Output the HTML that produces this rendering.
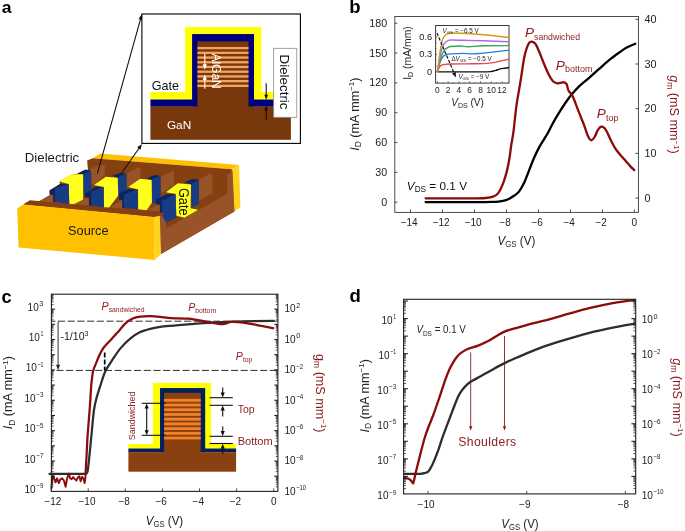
<!DOCTYPE html>
<html><head><meta charset="utf-8"><title>Figure</title>
<style>
html,body{margin:0;padding:0;background:#fff;}
body{width:685px;height:531px;overflow:hidden;}
svg{display:block;font-family:"Liberation Sans",sans-serif;}
</style></head><body>
<svg width="685" height="531" viewBox="0 0 685 531">
<rect width="685" height="531" fill="#fff"/>
<g id="panel-a">
<text x="1.8" y="13" font-size="17" fill="#000" text-anchor="start" font-weight="bold" textLength="9.8" lengthAdjust="spacingAndGlyphs">a</text>
<polygon points="100.1,153.4 239.1,165 231.8,169.3 92.6,158.2" fill="#ffc000" />
<polygon points="239.1,165 240.4,207.3 234.4,211.5 231.8,169.3" fill="#ffd21f" />
<polygon points="87.1,160.5 92.6,158.2 231.8,169.3 234.4,211.5 161.1,254 153.9,217.1 23.2,204.6 29.8,200.6 39.6,201.1 50,195 49.5,190.6 60,184 59.4,181.6 71.9,174.4 77.2,173.7 85.1,169.8 88,169.8" fill="#86400f" />
<polygon points="227.2,175.5 232.5,170 234.4,211.5 161.1,254 159.8,215.8 165.8,213.8 166.2,228.5 227.2,193.8" fill="#985428" />
<polygon points="89.05,169.76 99.99,164.49 104.86,165.55 104.86,175.03 94.32,184.52 91.03,184.52" fill="#985428" />
<polygon points="127.15,173.45 138.75,167.13 140.33,168.18 140.33,177.67 128.87,186.23 127.15,187.55" fill="#985428" />
<polygon points="160.93,176.86 172.13,170.93 174.1,171.59 174.1,184.76 165.54,190.69 160.93,193.33" fill="#985428" />
<polygon points="199.14,179.49 210.34,173.56 212.31,174.49 212.31,193.33 199.14,200.57" fill="#985428" />
<polygon points="39.64,201.12 50.84,194.8 53.48,194.8 53.48,202.44" fill="#985428" />
<polygon points="74.56,204.28 87.73,196.77 89.05,197.43 89.05,205.34" fill="#985428" />
<polygon points="109.1,207.58 120.96,200.72 122.67,200.72 122.67,208.63" fill="#985428" />
<polygon points="146.65,210.34 158.51,204.28 160.09,204.28 160.09,211.66" fill="#985428" />
<polygon points="77.19,173.72 85.1,169.76 91.03,170.42 83.12,174.64" fill="#0a2468" />
<polygon points="83.12,174.64 91.03,170.42 91.69,188.21 83.78,194.14" fill="#183c84" />
<polygon points="59.41,181.62 71.92,174.37 83.12,174.37 83.12,199.41 73.9,204.28 69.29,204.02 68.63,183.99" fill="#ffff1e" />
<polygon points="49.53,190.58 60.07,183.99 68.63,183.99 55.45,188.47 55.45,202.04 53.21,202.04 53.21,195.06 49.53,194.53" fill="#0a2468" />
<polygon points="55.45,188.47 68.63,183.99 69.29,204.02 55.45,202.04" fill="#183c84" />
<polygon points="112.4,175.69 120.96,172.66 126.23,173.45 117.67,177.93" fill="#0a2468" />
<polygon points="117.67,177.93 126.23,173.45 126.89,189.53 118.33,195.45" fill="#183c84" />
<polygon points="93.95,184.91 105.81,176.75 117.67,177.67 118.33,195.45 109.1,207.58 103.83,207.58 103.83,186.89" fill="#ffff1e" />
<polygon points="84.99,193.48 95.27,186.63 103.57,187.15 91.58,191.9 91.58,205.99 88.95,205.6 88.95,197.69 84.99,197.17" fill="#0a2468" />
<polygon points="91.58,191.9 103.57,187.15 103.97,207.58 91.58,205.99" fill="#183c84" />
<polygon points="146.65,178.33 154.56,175.03 160.49,175.69 151.66,180.04" fill="#0a2468" />
<polygon points="151.66,180.04 160.49,175.69 160.88,196.11 155.22,203.36 151.92,202.7" fill="#183c84" />
<polygon points="128.21,186.89 140.07,178.72 151.66,180.04 151.92,202.7 146.65,210.34 138.09,209.29 138.09,189.53" fill="#ffff1e" />
<polygon points="118.72,193.48 129.53,188.87 137.69,189.79 124.52,194.8 123.99,207.97 122.28,207.97 122.28,200.07 118.72,199.41" fill="#0a2468" />
<polygon points="124.52,194.8 137.69,189.79 138.09,209.29 123.99,207.97" fill="#183c84" />
<polygon points="184.37,182.28 192.28,178.99 198.87,179.64 190.96,184.52" fill="#0a2468" />
<polygon points="190.96,184.52 198.87,179.64 198.87,204.02 191.62,207.97" fill="#183c84" />
<polygon points="165.9,192.2 177.8,183.2 191,184.5 190.6,208.3 198.2,209.8 184.4,217.7 176.3,215.8 175.6,194" fill="#ffff1e" />
<polygon points="155.88,199.41 166.42,194.14 175.64,193.74 161.81,201.38 162.07,212.98 159.83,212.19 159.83,204.68 155.88,204.02" fill="#0a2468" />
<polygon points="161.8,201.2 175.6,194.3 176.3,217.7 166.4,222.4 162.2,215.8" fill="#183c84" />
<polygon points="23.2,204.6 29.8,200.6 163.8,213.1 165.8,213.6 159.8,215.8 153.9,217.1" fill="#86400f" />
<polygon points="17.2,208.5 23.2,204.6 153.9,217.1 154.6,259.9 18.6,247.4" fill="#ffc000" />
<polygon points="153.9,217.1 159.8,215.8 161.1,254 154.6,259.9" fill="#ffd21f" />
<text x="24.8" y="161.9" font-size="12.8" fill="#1a1a1a" text-anchor="start" textLength="54.4" lengthAdjust="spacingAndGlyphs">Dielectric</text>
<text x="68" y="234.9" font-size="12.8" fill="#1a1a1a" text-anchor="start" >Source</text>
<text transform="translate(178.5,187.9) rotate(90)" font-size="13.8" fill="#111" textLength="27.6" lengthAdjust="spacingAndGlyphs">Gate</text>
<line x1="97.4" y1="173.4" x2="141.3" y2="16.4" stroke="#111" stroke-width="1.1" />
<polygon points="141.9,14.2 142.35,20.04 138.49,18.96" fill="#111" />
<line x1="121.2" y1="173.7" x2="140.6" y2="146" stroke="#111" stroke-width="1.1" />
<polygon points="142,144 140.48,149.65 137.21,147.36" fill="#111" />
<rect x="141.9" y="14" width="158.5" height="129.4" fill="#fff" stroke="#000" stroke-width="1.1"/>
<polygon points="150.4,92 185.3,92 185.3,27.2 261.2,27.2 261.2,92 274,92 274,99.5 150.4,99.5" fill="#ffff00" />
<rect x="185.3" y="27.2" width="75.9" height="72.3" fill="#ffff00" />
<polygon points="150.4,99.5 192.3,99.5 192.3,34.2 254,34.2 254,99.5 274,99.5 274,106.7 150.4,106.7" fill="#00007e" />
<rect x="192.3" y="34.2" width="61.7" height="72.5" fill="#00007e" />
<rect x="150.4" y="106.6" width="140.5" height="33.2" fill="#78380c" />
<rect x="197.4" y="41.4" width="51.1" height="70" fill="#78380c" />
<rect x="197.4" y="46.95" width="51.1" height="2.3" fill="#f4a460" />
<rect x="197.4" y="51.67" width="51.1" height="2.3" fill="#f4a460" />
<rect x="197.4" y="56.39" width="51.1" height="2.3" fill="#f4a460" />
<rect x="197.4" y="61.11" width="51.1" height="2.3" fill="#f4a460" />
<rect x="197.4" y="65.83" width="51.1" height="2.3" fill="#f4a460" />
<rect x="197.4" y="70.55" width="51.1" height="2.3" fill="#f4a460" />
<rect x="197.4" y="75.27" width="51.1" height="2.3" fill="#f4a460" />
<rect x="197.4" y="79.99" width="51.1" height="2.3" fill="#f4a460" />
<rect x="197.4" y="84.71" width="51.1" height="2.3" fill="#f4a460" />
<line x1="204.8" y1="53.6" x2="204.8" y2="65" stroke="#fff" stroke-width="1.1" />
<polygon points="204.8,69.8 202.7,64.2 206.9,64.2" fill="#fff" />
<line x1="204.8" y1="79.5" x2="204.8" y2="88.8" stroke="#fff" stroke-width="1.1" />
<polygon points="204.8,74.4 206.9,80 202.7,80" fill="#fff" />
<text transform="translate(212.4,53.4) rotate(90)" font-size="13.4" fill="#fff" textLength="35.4" lengthAdjust="spacingAndGlyphs">AlGaN</text>
<text x="151.7" y="90.2" font-size="12.6" fill="#111" text-anchor="start" >Gate</text>
<text x="166.9" y="129" font-size="11.8" fill="#fff" text-anchor="start" >GaN</text>
<line x1="266.2" y1="83.3" x2="266.2" y2="96" stroke="#111" stroke-width="1.1" />
<polygon points="266.2,99.8 264.3,94.8 268.1,94.8" fill="#111" />
<line x1="266.2" y1="109" x2="266.2" y2="120.6" stroke="#111" stroke-width="1.1" />
<polygon points="266.2,105.2 268.1,110.2 264.3,110.2" fill="#111" />
<rect x="273.7" y="48.3" width="23.1" height="69" fill="#fff" stroke="#8a8a8a" stroke-width="0.8"/>
<text transform="translate(280.2,54.5) rotate(90)" font-size="13.3" fill="#111" textLength="55" lengthAdjust="spacingAndGlyphs">Dielectric</text>
</g>
<g id="panel-b">
<text x="349.3" y="12.6" font-size="18.5" fill="#000" text-anchor="start" font-weight="bold">b</text>
<path d="M425.6 202.1C431.33 202.1 450.1 202.1 460 202.1C469.9 202.1 479.47 202.13 485 202.1C490.53 202.07 491.03 201.98 493.2 201.9C495.37 201.82 496.33 201.77 498 201.6C499.67 201.43 501.5 201.28 503.2 200.9C504.9 200.52 506.4 200.15 508.2 199.3C510 198.45 512.2 197.08 514 195.8C515.8 194.52 517.33 193.72 519 191.6C520.67 189.48 522.33 186.6 524 183.1C525.67 179.6 527.33 174.78 529 170.6C530.67 166.42 532.33 161.83 534 158C535.67 154.17 537.33 150.72 539 147.6C540.67 144.48 542.53 141.73 544 139.3C545.47 136.87 546.3 135.72 547.8 133C549.3 130.28 551.12 126.38 553 123C554.88 119.62 557.1 115.95 559.1 112.7C561.1 109.45 562.92 106.52 565 103.5C567.08 100.48 569.25 97.45 571.6 94.6C573.95 91.75 576.18 89.18 579.1 86.4C582.02 83.62 585.77 80.82 589.1 77.9C592.43 74.98 595.77 71.87 599.1 68.9C602.43 65.93 605.75 62.82 609.1 60.1C612.45 57.38 616.27 54.68 619.2 52.6C622.13 50.52 624.03 49.07 626.7 47.6C629.37 46.13 633.78 44.43 635.2 43.8" fill="none" stroke="#000" stroke-width="2.3" stroke-linecap="round" stroke-linejoin="round"/>
<path d="M425.6 198.3C429.67 198.3 441.77 198.3 450 198.3C458.23 198.3 469.05 198.35 475 198.3C480.95 198.25 482.67 198.28 485.7 198C488.73 197.72 491.12 197.42 493.2 196.6C495.28 195.78 496.53 195.35 498.2 193.1C499.87 190.85 501.73 186.85 503.2 183.1C504.67 179.35 505.95 174.78 507 170.6C508.05 166.42 508.8 162.18 509.5 158C510.2 153.82 510.57 149.67 511.2 145.5C511.83 141.33 512.7 137.25 513.3 133C513.9 128.75 514.27 124.63 514.8 120C515.33 115.37 515.58 111.43 516.5 105.2C517.42 98.97 519.05 90.33 520.3 82.6C521.55 74.87 522.97 64.43 524 58.8C525.03 53.17 525.67 51.42 526.5 48.8C527.33 46.18 528.17 44.3 529 43.1C529.83 41.9 530.45 41.48 531.5 41.6C532.55 41.72 534.05 42.18 535.3 43.8C536.55 45.42 537.55 47.97 539 51.3C540.45 54.63 542.33 59.83 544 63.8C545.67 67.77 547.53 72.23 549 75.1C550.47 77.97 551.53 79.65 552.8 81C554.07 82.35 555.35 82.9 556.6 83.2C557.85 83.5 559.05 82.95 560.3 82.8C561.55 82.65 563.05 82.08 564.1 82.3C565.15 82.52 565.88 82.75 566.6 84.1C567.32 85.45 567.73 88.88 568.4 90.4C569.07 91.92 569.9 92.27 570.6 93.2C571.3 94.13 571.85 94.5 572.6 96C573.35 97.5 574.02 99.42 575.1 102.2C576.18 104.98 577.6 108.87 579.1 112.7C580.6 116.53 582.77 121.65 584.1 125.2C585.43 128.75 586.23 131.77 587.1 134C587.97 136.23 588.55 137.57 589.3 138.6C590.05 139.63 590.72 140.47 591.6 140.2C592.48 139.93 593.63 138.57 594.6 137C595.57 135.43 596.57 132.35 597.4 130.8C598.23 129.25 598.9 128.4 599.6 127.7C600.3 127 600.77 126.52 601.6 126.6C602.43 126.68 603.62 127.13 604.6 128.2C605.58 129.27 606.33 130.73 607.5 133C608.67 135.27 610.07 138.88 611.6 141.8C613.13 144.72 614.6 147.58 616.7 150.5C618.8 153.42 621.92 156.65 624.2 159.3C626.48 161.95 628.73 164.6 630.4 166.4C632.07 168.2 633.57 169.48 634.2 170.1" fill="none" stroke="#8b0a0a" stroke-width="2.3" stroke-linecap="round" stroke-linejoin="round"/>
<rect x="394.8" y="16.5" width="243.6" height="195.9" fill="none" stroke="#3a3a3a" stroke-width="0.9"/>
<line x1="394.8" y1="202.2" x2="397.4" y2="202.2" stroke="#3a3a3a" stroke-width="0.9" />
<text x="387.2" y="205.8" font-size="10" fill="#222" text-anchor="end" textLength="5.95" lengthAdjust="spacingAndGlyphs">0</text>
<line x1="394.8" y1="172.37" x2="397.4" y2="172.37" stroke="#3a3a3a" stroke-width="0.9" />
<text x="387.2" y="175.97" font-size="10" fill="#222" text-anchor="end" textLength="11.9" lengthAdjust="spacingAndGlyphs">30</text>
<line x1="394.8" y1="142.54" x2="397.4" y2="142.54" stroke="#3a3a3a" stroke-width="0.9" />
<text x="387.2" y="146.14" font-size="10" fill="#222" text-anchor="end" textLength="11.9" lengthAdjust="spacingAndGlyphs">60</text>
<line x1="394.8" y1="112.71" x2="397.4" y2="112.71" stroke="#3a3a3a" stroke-width="0.9" />
<text x="387.2" y="116.31" font-size="10" fill="#222" text-anchor="end" textLength="11.9" lengthAdjust="spacingAndGlyphs">90</text>
<line x1="394.8" y1="82.88" x2="397.4" y2="82.88" stroke="#3a3a3a" stroke-width="0.9" />
<text x="387.2" y="86.48" font-size="10" fill="#222" text-anchor="end" textLength="17.85" lengthAdjust="spacingAndGlyphs">120</text>
<line x1="394.8" y1="53.06" x2="397.4" y2="53.06" stroke="#3a3a3a" stroke-width="0.9" />
<text x="387.2" y="56.66" font-size="10" fill="#222" text-anchor="end" textLength="17.85" lengthAdjust="spacingAndGlyphs">150</text>
<line x1="394.8" y1="23.23" x2="397.4" y2="23.23" stroke="#3a3a3a" stroke-width="0.9" />
<text x="387.2" y="26.83" font-size="10" fill="#222" text-anchor="end" textLength="17.85" lengthAdjust="spacingAndGlyphs">180</text>
<line x1="410.4" y1="212.4" x2="410.4" y2="209.4" stroke="#3a3a3a" stroke-width="0.9" />
<text x="409.2" y="225.6" font-size="10" fill="#222" text-anchor="middle" >&#8722;14</text>
<line x1="442.4" y1="212.4" x2="442.4" y2="209.4" stroke="#3a3a3a" stroke-width="0.9" />
<text x="441.2" y="225.6" font-size="10" fill="#222" text-anchor="middle" >&#8722;12</text>
<line x1="474.4" y1="212.4" x2="474.4" y2="209.4" stroke="#3a3a3a" stroke-width="0.9" />
<text x="473.2" y="225.6" font-size="10" fill="#222" text-anchor="middle" >&#8722;10</text>
<line x1="506.4" y1="212.4" x2="506.4" y2="209.4" stroke="#3a3a3a" stroke-width="0.9" />
<text x="505.2" y="225.6" font-size="10" fill="#222" text-anchor="middle" >&#8722;8</text>
<line x1="538.4" y1="212.4" x2="538.4" y2="209.4" stroke="#3a3a3a" stroke-width="0.9" />
<text x="537.2" y="225.6" font-size="10" fill="#222" text-anchor="middle" >&#8722;6</text>
<line x1="570.4" y1="212.4" x2="570.4" y2="209.4" stroke="#3a3a3a" stroke-width="0.9" />
<text x="569.2" y="225.6" font-size="10" fill="#222" text-anchor="middle" >&#8722;4</text>
<line x1="602.4" y1="212.4" x2="602.4" y2="209.4" stroke="#3a3a3a" stroke-width="0.9" />
<text x="601.2" y="225.6" font-size="10" fill="#222" text-anchor="middle" >&#8722;2</text>
<line x1="634.4" y1="212.4" x2="634.4" y2="209.4" stroke="#3a3a3a" stroke-width="0.9" />
<text x="634.4" y="225.6" font-size="10" fill="#222" text-anchor="middle" >0</text>
<line x1="638.4" y1="198.1" x2="635.4" y2="198.1" stroke="#3a3a3a" stroke-width="0.9" />
<text x="644.4" y="201.7" font-size="10" fill="#222" text-anchor="start" textLength="6" lengthAdjust="spacingAndGlyphs">0</text>
<line x1="638.4" y1="153.4" x2="635.4" y2="153.4" stroke="#3a3a3a" stroke-width="0.9" />
<text x="644.4" y="157" font-size="10" fill="#222" text-anchor="start" textLength="12.01" lengthAdjust="spacingAndGlyphs">10</text>
<line x1="638.4" y1="108.7" x2="635.4" y2="108.7" stroke="#3a3a3a" stroke-width="0.9" />
<text x="644.4" y="112.3" font-size="10" fill="#222" text-anchor="start" textLength="12.01" lengthAdjust="spacingAndGlyphs">20</text>
<line x1="638.4" y1="64" x2="635.4" y2="64" stroke="#3a3a3a" stroke-width="0.9" />
<text x="644.4" y="67.6" font-size="10" fill="#222" text-anchor="start" textLength="12.01" lengthAdjust="spacingAndGlyphs">30</text>
<line x1="638.4" y1="19.3" x2="635.4" y2="19.3" stroke="#3a3a3a" stroke-width="0.9" />
<text x="644.4" y="22.9" font-size="10" fill="#222" text-anchor="start" textLength="12.01" lengthAdjust="spacingAndGlyphs">40</text>
<text transform="translate(358.9,114.2) rotate(-90)" font-size="12.6" fill="#222" text-anchor="middle"><tspan font-style="italic">I</tspan><tspan font-size="8.5" dy="2.2" font-style="normal">D</tspan><tspan dy="-2.2" font-size="1">&#8203;</tspan> (mA mm<tspan font-size="8" dy="-4.5" font-style="normal">&#8722;1</tspan><tspan dy="4.5" font-size="1">&#8203;</tspan>)</text>
<text transform="translate(669.6,114.5) rotate(90)" font-size="12.6" fill="#8b1a1a" text-anchor="middle"><tspan font-style="italic">g</tspan><tspan font-size="8.5" dy="2.2" font-style="normal">m</tspan><tspan dy="-2.2" font-size="1">&#8203;</tspan> (mS mm<tspan font-size="8" dy="-4.5" font-style="normal">&#8722;1</tspan><tspan dy="4.5" font-size="1">&#8203;</tspan>)</text>
<text x="516.4" y="245.2" font-size="12.2" fill="#222" text-anchor="middle" textLength="37.8" lengthAdjust="spacingAndGlyphs"><tspan font-style="italic">V</tspan><tspan font-size="8.2" dy="2.2" font-style="normal">GS</tspan><tspan dy="-2.2" font-size="1">&#8203;</tspan> (V)</text>
<text x="406.8" y="189.9" font-size="11.8" fill="#111" text-anchor="start" ><tspan font-style="italic">V</tspan><tspan font-size="8.2" dy="2.2" font-style="normal">DS</tspan><tspan dy="-2.2" font-size="1">&#8203;</tspan> = 0.1 V</text>
<text x="525" y="37.2" font-size="13.6" fill="#8b1a1a" text-anchor="start" ><tspan font-style="italic">P</tspan><tspan font-size="8.7" dy="2.6" font-style="normal">sandwiched</tspan><tspan dy="-2.6" font-size="1">&#8203;</tspan></text>
<text x="555.8" y="69.8" font-size="13.6" fill="#8b1a1a" text-anchor="start" ><tspan font-style="italic">P</tspan><tspan font-size="9" dy="2.6" font-style="normal">bottom</tspan><tspan dy="-2.6" font-size="1">&#8203;</tspan></text>
<text x="596.8" y="118.2" font-size="13.6" fill="#8b1a1a" text-anchor="start" ><tspan font-style="italic">P</tspan><tspan font-size="9" dy="2.6" font-style="normal">top</tspan><tspan dy="-2.6" font-size="1">&#8203;</tspan></text>
<rect x="435.6" y="25.5" width="73.4" height="57.6" fill="#fff" stroke="#3a3a3a" stroke-width="1.0"/>
<clipPath id="insclip"><rect x="435.6" y="25.5" width="73.4" height="57.6"/></clipPath>
<g clip-path="url(#insclip)" fill="none" stroke-width="1.4" stroke-linejoin="round">
<path d="M437.39 71.86C439.83 71.86 450.23 71.86 455.67 71.86C461.11 71.86 473.53 71.89 478.2 71.86C482.88 71.82 488.38 71.81 490.72 71.61C493.06 71.41 494.56 70.69 495.73 70.36C496.9 70.02 498.48 69.37 499.48 69.1C500.49 68.84 501.97 68.55 503.24 68.35C504.51 68.15 508.23 67.7 509 67.6" stroke="#111"/>
<path d="M437.39 71.86C437.53 71.52 438.13 69.99 438.39 69.35C438.66 68.72 439.03 67.63 439.39 67.1C439.76 66.57 440.65 65.68 441.15 65.35C441.65 65.01 441.88 64.78 443.15 64.6C444.42 64.41 447.32 64.07 450.66 63.97C454 63.87 463.85 63.9 468.19 63.85C472.53 63.8 479.87 63.76 483.21 63.6C486.55 63.43 491.22 62.86 493.23 62.59C495.23 62.33 496.13 62.06 498.23 61.59C500.34 61.13 507.56 59.42 509 59.09" stroke="#e8474c"/>
<path d="M437.39 71.86C437.59 71.02 438.46 67.07 438.89 65.6C439.33 64.13 440.18 61.94 440.65 60.84C441.11 59.74 441.9 58.07 442.4 57.34C442.9 56.6 443.8 55.73 444.4 55.33C445 54.93 446.07 54.53 446.91 54.33C447.74 54.13 448.49 53.96 450.66 53.83C452.83 53.7 460.18 53.33 463.18 53.33C466.18 53.33 469.86 53.93 473.2 53.83C476.53 53.73 483.44 53.08 488.22 52.58C492.99 52.08 506.23 50.41 509 50.08" stroke="#2a7be0"/>
<path d="M437.39 71.86C437.63 70.69 438.71 64.9 439.14 63.09C439.58 61.29 440.28 59.44 440.65 58.34C441.01 57.24 441.5 55.77 441.9 54.83C442.3 53.9 443.15 52.13 443.65 51.33C444.15 50.53 445.05 49.36 445.65 48.82C446.25 48.29 447.49 47.62 448.16 47.32C448.83 47.02 448.99 46.74 450.66 46.57C452.33 46.4 458.34 46.04 460.68 46.07C463.01 46.1 465.18 46.85 468.19 46.82C471.19 46.79 477.77 45.99 483.21 45.82C488.65 45.65 505.56 45.6 509 45.57" stroke="#2faa55"/>
<path d="M437.39 71.86C437.63 70.46 438.71 63.75 439.14 61.34C439.58 58.94 440.28 55.53 440.65 53.83C441.01 52.13 441.5 49.81 441.9 48.57C442.3 47.34 443.15 45.43 443.65 44.57C444.15 43.7 445.05 42.6 445.65 42.06C446.25 41.53 447.49 40.83 448.16 40.56C448.83 40.29 448.66 40.09 450.66 40.06C452.66 40.03 458.84 40.21 463.18 40.31C467.52 40.41 477.1 40.61 483.21 40.81C489.32 41.01 505.56 41.68 509 41.81" stroke="#b566e6"/>
<path d="M437.39 71.86C437.59 70.29 438.53 62.83 438.89 60.09C439.26 57.35 439.81 53.5 440.15 51.33C440.48 49.16 441 45.59 441.4 43.82C441.8 42.05 442.58 39.23 443.15 38.06C443.72 36.89 444.99 35.65 445.65 35.05C446.32 34.45 447.49 33.82 448.16 33.55C448.83 33.28 448.99 33.08 450.66 33.05C452.33 33.02 456.67 33.1 460.68 33.3C464.68 33.5 475.7 34.15 480.71 34.55C485.71 34.95 494.46 35.9 498.23 36.3C502.01 36.71 507.56 37.39 509 37.56" stroke="#d29b13"/>
</g>
<line x1="435.6" y1="71.9" x2="437.4" y2="71.9" stroke="#3a3a3a" stroke-width="0.7" />
<text x="432.2" y="74.9" font-size="8.4" fill="#222" text-anchor="end" textLength="5.14" lengthAdjust="spacingAndGlyphs">0</text>
<line x1="435.6" y1="54.45" x2="437.4" y2="54.45" stroke="#3a3a3a" stroke-width="0.7" />
<text x="432.2" y="57.45" font-size="8.4" fill="#222" text-anchor="end" textLength="12.84" lengthAdjust="spacingAndGlyphs">0.3</text>
<line x1="435.6" y1="37" x2="437.4" y2="37" stroke="#3a3a3a" stroke-width="0.7" />
<text x="432.2" y="40" font-size="8.4" fill="#222" text-anchor="end" textLength="12.84" lengthAdjust="spacingAndGlyphs">0.6</text>
<line x1="437.4" y1="83.1" x2="437.4" y2="81.3" stroke="#3a3a3a" stroke-width="0.7" />
<text x="437.4" y="92.7" font-size="8.4" fill="#222" text-anchor="middle" >0</text>
<line x1="448.17" y1="83.1" x2="448.17" y2="81.3" stroke="#3a3a3a" stroke-width="0.7" />
<text x="448.17" y="92.7" font-size="8.4" fill="#222" text-anchor="middle" >2</text>
<line x1="458.94" y1="83.1" x2="458.94" y2="81.3" stroke="#3a3a3a" stroke-width="0.7" />
<text x="458.94" y="92.7" font-size="8.4" fill="#222" text-anchor="middle" >4</text>
<line x1="469.71" y1="83.1" x2="469.71" y2="81.3" stroke="#3a3a3a" stroke-width="0.7" />
<text x="469.71" y="92.7" font-size="8.4" fill="#222" text-anchor="middle" >6</text>
<line x1="480.48" y1="83.1" x2="480.48" y2="81.3" stroke="#3a3a3a" stroke-width="0.7" />
<text x="480.48" y="92.7" font-size="8.4" fill="#222" text-anchor="middle" >8</text>
<line x1="491.25" y1="83.1" x2="491.25" y2="81.3" stroke="#3a3a3a" stroke-width="0.7" />
<text x="491.25" y="92.7" font-size="8.4" fill="#222" text-anchor="middle" >10</text>
<line x1="502.02" y1="83.1" x2="502.02" y2="81.3" stroke="#3a3a3a" stroke-width="0.7" />
<text x="502.02" y="92.7" font-size="8.4" fill="#222" text-anchor="middle" >12</text>
<line x1="442.78" y1="83.1" x2="442.78" y2="82.1" stroke="#3a3a3a" stroke-width="0.5" />
<line x1="453.55" y1="83.1" x2="453.55" y2="82.1" stroke="#3a3a3a" stroke-width="0.5" />
<line x1="464.32" y1="83.1" x2="464.32" y2="82.1" stroke="#3a3a3a" stroke-width="0.5" />
<line x1="475.09" y1="83.1" x2="475.09" y2="82.1" stroke="#3a3a3a" stroke-width="0.5" />
<line x1="485.86" y1="83.1" x2="485.86" y2="82.1" stroke="#3a3a3a" stroke-width="0.5" />
<line x1="496.63" y1="83.1" x2="496.63" y2="82.1" stroke="#3a3a3a" stroke-width="0.5" />
<line x1="507.4" y1="83.1" x2="507.4" y2="82.1" stroke="#3a3a3a" stroke-width="0.5" />
<line x1="435.6" y1="66.08" x2="436.6" y2="66.08" stroke="#3a3a3a" stroke-width="0.5" />
<line x1="435.6" y1="60.27" x2="436.6" y2="60.27" stroke="#3a3a3a" stroke-width="0.5" />
<line x1="435.6" y1="48.63" x2="436.6" y2="48.63" stroke="#3a3a3a" stroke-width="0.5" />
<line x1="435.6" y1="42.82" x2="436.6" y2="42.82" stroke="#3a3a3a" stroke-width="0.5" />
<line x1="435.6" y1="31.18" x2="436.6" y2="31.18" stroke="#3a3a3a" stroke-width="0.5" />
<text transform="translate(411.2,53) rotate(-90)" font-size="10.4" fill="#222" text-anchor="middle">I<tspan font-size="7" dy="2" font-style="normal">D</tspan><tspan dy="-2" font-size="1">&#8203;</tspan> (mA/mm)</text>
<text x="467.6" y="106.2" font-size="10.1" fill="#222" text-anchor="middle" ><tspan font-style="italic">V</tspan><tspan font-size="7" dy="2" font-style="normal">DS</tspan><tspan dy="-2" font-size="1">&#8203;</tspan> (V)</text>
<text x="442.6" y="32.6" font-size="6.3" fill="#222" text-anchor="start" ><tspan font-style="italic">V</tspan><tspan font-size="4.4" dy="1.2" font-style="normal">GS</tspan><tspan dy="-1.2" font-size="1">&#8203;</tspan> = &#8722;6.5 V</text>
<text x="451.4" y="60.8" font-size="6.3" fill="#222" text-anchor="start" >&#916;<tspan font-style="italic">V</tspan><tspan font-size="4.4" dy="1.2" font-style="normal">GS</tspan><tspan dy="-1.2" font-size="1">&#8203;</tspan> = &#8722;0.5 V</text>
<text x="458.4" y="79.2" font-size="6.3" fill="#222" text-anchor="start" ><tspan font-style="italic">V</tspan><tspan font-size="4.4" dy="1.2" font-style="normal">GS</tspan><tspan dy="-1.2" font-size="1">&#8203;</tspan> = &#8722;9 V</text>
<line x1="437" y1="33" x2="454.2" y2="73.4" stroke="#111" stroke-width="1.15" stroke-dasharray="3.2 1.7"/>
<polygon points="455.9,77.4 452.1,73.58 455.78,72.02" fill="#111" />
</g>
<g id="panel-c">
<text x="1.5" y="302.5" font-size="18.5" fill="#000" text-anchor="start" font-weight="bold" textLength="10.2" lengthAdjust="spacingAndGlyphs">c</text>
<line x1="51.4" y1="321.2" x2="277.9" y2="321.2" stroke="#222" stroke-width="0.95" stroke-dasharray="7.1 2.6" stroke-dashoffset="3.1"/>
<line x1="51.4" y1="370.4" x2="277.9" y2="370.4" stroke="#222" stroke-width="0.95" stroke-dasharray="7.1 2.6" stroke-dashoffset="4.7"/>
<path d="M49.5 473.8C52.23 473.8 65.4 473.8 70 473.8C74.6 473.8 81.81 473.83 84 473.8C86.19 473.77 85.92 473.92 86.4 473.6C86.88 473.28 87.25 473.21 87.6 471.4C87.95 469.59 88.49 464.77 89 460C89.51 455.23 90.75 442.2 91.4 435.6C92.05 429 93.23 415.45 93.9 410.5C94.57 405.55 95.56 401.74 96.4 398.5C97.24 395.26 99.03 389.81 100.2 386.2C101.37 382.59 103.53 374.97 105.2 371.4C106.87 367.83 110.7 362.44 112.7 359.4C114.7 356.36 117.87 351.37 120.2 348.6C122.53 345.83 127.53 340.8 130.2 338.6C132.87 336.4 137.53 333.41 140.2 332.1C142.87 330.79 147.53 329.49 150.2 328.8C152.87 328.11 157.43 327.3 160.2 326.9C162.97 326.5 166.89 326.17 171 325.8C175.11 325.43 185.65 324.53 191 324.1C196.35 323.67 205.09 322.93 211.1 322.6C217.11 322.27 227.75 321.84 236.1 321.6C244.45 321.36 268.69 320.91 273.7 320.8" fill="none" stroke="#2e2e2e" stroke-width="2.25" stroke-linecap="round" stroke-linejoin="round"/>
<path d="M51.33 488.84L52.08 480.07L53.08 475.82L54.58 479.32L55.58 482.33L57.09 478.32L58.84 483.08L60.34 479.32L62.09 478.32L63.85 480.32L65.6 486.83L67.1 478.32L68.85 473.56L70.11 478.32L71.61 479.32L73.11 477.07L74.61 478.82L76.36 480.57L77.87 477.32L79.37 476.32L80.62 481.32L82.12 476.82L83.38 478.32L84.63 483.08L85.38 478.32L85.63 473.81" fill="none" stroke="#8b0a0a" stroke-width="1.9" stroke-linejoin="round"/>
<path d="M85.6 473.1C85.73 470.69 86.33 460 86.6 455C86.87 450 87.2 441.53 87.6 435.6C88 429.67 89.23 415.38 89.6 410.5C89.97 405.62 90.16 402.57 90.4 399C90.64 395.43 91.04 387.41 91.4 383.7C91.76 379.99 92.43 374.04 93.1 371.2C93.77 368.36 95.45 364.75 96.4 362.4C97.35 360.05 99.2 355.61 100.2 353.6C101.2 351.59 102.57 349.05 103.9 347.3C105.23 345.55 108.36 342.5 110.2 340.5C112.04 338.5 115.7 334.55 117.7 332.3C119.7 330.05 123.2 325.43 125.2 323.6C127.2 321.77 130.7 319.53 132.7 318.6C134.7 317.67 137.87 316.93 140.2 316.6C142.53 316.27 147.53 316.07 150.2 316.1C152.87 316.13 157.43 316.53 160.2 316.8C162.97 317.07 167.23 317.86 171 318.1C174.77 318.34 184.17 318.2 188.5 318.6C192.83 319 200.15 320.5 203.5 321.1C206.85 321.7 211.25 322.69 213.6 323.1C215.95 323.51 219.45 324.16 221.1 324.2C222.75 324.24 224.67 323.71 226 323.4C227.33 323.09 229.09 322.05 231.1 321.9C233.11 321.75 237.77 321.91 241.1 322.3C244.43 322.69 251.82 324.03 256.1 324.8C260.38 325.57 270.92 327.66 273.2 328.1" fill="none" stroke="#8b0a0a" stroke-width="2.25" stroke-linecap="round" stroke-linejoin="round"/>
<rect x="51.4" y="294.2" width="226.5" height="197.2" fill="none" stroke="#222" stroke-width="1.1"/>
<line x1="51.4" y1="486.83" x2="53.5" y2="486.83" stroke="#222" stroke-width="0.8" />
<line x1="277.9" y1="486.83" x2="275.8" y2="486.83" stroke="#222" stroke-width="0.8" />
<line x1="51.4" y1="484.15" x2="53.5" y2="484.15" stroke="#222" stroke-width="0.8" />
<line x1="277.9" y1="484.15" x2="275.8" y2="484.15" stroke="#222" stroke-width="0.8" />
<line x1="51.4" y1="482.25" x2="53.5" y2="482.25" stroke="#222" stroke-width="0.8" />
<line x1="277.9" y1="482.25" x2="275.8" y2="482.25" stroke="#222" stroke-width="0.8" />
<line x1="51.4" y1="480.78" x2="53.5" y2="480.78" stroke="#222" stroke-width="0.8" />
<line x1="277.9" y1="480.78" x2="275.8" y2="480.78" stroke="#222" stroke-width="0.8" />
<line x1="51.4" y1="479.58" x2="53.5" y2="479.58" stroke="#222" stroke-width="0.8" />
<line x1="277.9" y1="479.58" x2="275.8" y2="479.58" stroke="#222" stroke-width="0.8" />
<line x1="51.4" y1="478.56" x2="53.5" y2="478.56" stroke="#222" stroke-width="0.8" />
<line x1="277.9" y1="478.56" x2="275.8" y2="478.56" stroke="#222" stroke-width="0.8" />
<line x1="51.4" y1="477.68" x2="53.5" y2="477.68" stroke="#222" stroke-width="0.8" />
<line x1="277.9" y1="477.68" x2="275.8" y2="477.68" stroke="#222" stroke-width="0.8" />
<line x1="51.4" y1="476.91" x2="53.5" y2="476.91" stroke="#222" stroke-width="0.8" />
<line x1="277.9" y1="476.91" x2="275.8" y2="476.91" stroke="#222" stroke-width="0.8" />
<line x1="51.4" y1="476.21" x2="55" y2="476.21" stroke="#222" stroke-width="1.1" />
<line x1="277.9" y1="476.21" x2="274.3" y2="476.21" stroke="#222" stroke-width="1.1" />
<line x1="51.4" y1="471.64" x2="53.5" y2="471.64" stroke="#222" stroke-width="0.8" />
<line x1="277.9" y1="471.64" x2="275.8" y2="471.64" stroke="#222" stroke-width="0.8" />
<line x1="51.4" y1="468.96" x2="53.5" y2="468.96" stroke="#222" stroke-width="0.8" />
<line x1="277.9" y1="468.96" x2="275.8" y2="468.96" stroke="#222" stroke-width="0.8" />
<line x1="51.4" y1="467.06" x2="53.5" y2="467.06" stroke="#222" stroke-width="0.8" />
<line x1="277.9" y1="467.06" x2="275.8" y2="467.06" stroke="#222" stroke-width="0.8" />
<line x1="51.4" y1="465.59" x2="53.5" y2="465.59" stroke="#222" stroke-width="0.8" />
<line x1="277.9" y1="465.59" x2="275.8" y2="465.59" stroke="#222" stroke-width="0.8" />
<line x1="51.4" y1="464.39" x2="53.5" y2="464.39" stroke="#222" stroke-width="0.8" />
<line x1="277.9" y1="464.39" x2="275.8" y2="464.39" stroke="#222" stroke-width="0.8" />
<line x1="51.4" y1="463.37" x2="53.5" y2="463.37" stroke="#222" stroke-width="0.8" />
<line x1="277.9" y1="463.37" x2="275.8" y2="463.37" stroke="#222" stroke-width="0.8" />
<line x1="51.4" y1="462.49" x2="53.5" y2="462.49" stroke="#222" stroke-width="0.8" />
<line x1="277.9" y1="462.49" x2="275.8" y2="462.49" stroke="#222" stroke-width="0.8" />
<line x1="51.4" y1="461.72" x2="53.5" y2="461.72" stroke="#222" stroke-width="0.8" />
<line x1="277.9" y1="461.72" x2="275.8" y2="461.72" stroke="#222" stroke-width="0.8" />
<line x1="51.4" y1="461.02" x2="55" y2="461.02" stroke="#222" stroke-width="1.1" />
<line x1="277.9" y1="461.02" x2="274.3" y2="461.02" stroke="#222" stroke-width="1.1" />
<line x1="51.4" y1="456.45" x2="53.5" y2="456.45" stroke="#222" stroke-width="0.8" />
<line x1="277.9" y1="456.45" x2="275.8" y2="456.45" stroke="#222" stroke-width="0.8" />
<line x1="51.4" y1="453.77" x2="53.5" y2="453.77" stroke="#222" stroke-width="0.8" />
<line x1="277.9" y1="453.77" x2="275.8" y2="453.77" stroke="#222" stroke-width="0.8" />
<line x1="51.4" y1="451.87" x2="53.5" y2="451.87" stroke="#222" stroke-width="0.8" />
<line x1="277.9" y1="451.87" x2="275.8" y2="451.87" stroke="#222" stroke-width="0.8" />
<line x1="51.4" y1="450.4" x2="53.5" y2="450.4" stroke="#222" stroke-width="0.8" />
<line x1="277.9" y1="450.4" x2="275.8" y2="450.4" stroke="#222" stroke-width="0.8" />
<line x1="51.4" y1="449.2" x2="53.5" y2="449.2" stroke="#222" stroke-width="0.8" />
<line x1="277.9" y1="449.2" x2="275.8" y2="449.2" stroke="#222" stroke-width="0.8" />
<line x1="51.4" y1="448.18" x2="53.5" y2="448.18" stroke="#222" stroke-width="0.8" />
<line x1="277.9" y1="448.18" x2="275.8" y2="448.18" stroke="#222" stroke-width="0.8" />
<line x1="51.4" y1="447.3" x2="53.5" y2="447.3" stroke="#222" stroke-width="0.8" />
<line x1="277.9" y1="447.3" x2="275.8" y2="447.3" stroke="#222" stroke-width="0.8" />
<line x1="51.4" y1="446.53" x2="53.5" y2="446.53" stroke="#222" stroke-width="0.8" />
<line x1="277.9" y1="446.53" x2="275.8" y2="446.53" stroke="#222" stroke-width="0.8" />
<line x1="51.4" y1="445.83" x2="55" y2="445.83" stroke="#222" stroke-width="1.1" />
<line x1="277.9" y1="445.83" x2="274.3" y2="445.83" stroke="#222" stroke-width="1.1" />
<line x1="51.4" y1="441.26" x2="53.5" y2="441.26" stroke="#222" stroke-width="0.8" />
<line x1="277.9" y1="441.26" x2="275.8" y2="441.26" stroke="#222" stroke-width="0.8" />
<line x1="51.4" y1="438.58" x2="53.5" y2="438.58" stroke="#222" stroke-width="0.8" />
<line x1="277.9" y1="438.58" x2="275.8" y2="438.58" stroke="#222" stroke-width="0.8" />
<line x1="51.4" y1="436.68" x2="53.5" y2="436.68" stroke="#222" stroke-width="0.8" />
<line x1="277.9" y1="436.68" x2="275.8" y2="436.68" stroke="#222" stroke-width="0.8" />
<line x1="51.4" y1="435.21" x2="53.5" y2="435.21" stroke="#222" stroke-width="0.8" />
<line x1="277.9" y1="435.21" x2="275.8" y2="435.21" stroke="#222" stroke-width="0.8" />
<line x1="51.4" y1="434.01" x2="53.5" y2="434.01" stroke="#222" stroke-width="0.8" />
<line x1="277.9" y1="434.01" x2="275.8" y2="434.01" stroke="#222" stroke-width="0.8" />
<line x1="51.4" y1="432.99" x2="53.5" y2="432.99" stroke="#222" stroke-width="0.8" />
<line x1="277.9" y1="432.99" x2="275.8" y2="432.99" stroke="#222" stroke-width="0.8" />
<line x1="51.4" y1="432.11" x2="53.5" y2="432.11" stroke="#222" stroke-width="0.8" />
<line x1="277.9" y1="432.11" x2="275.8" y2="432.11" stroke="#222" stroke-width="0.8" />
<line x1="51.4" y1="431.34" x2="53.5" y2="431.34" stroke="#222" stroke-width="0.8" />
<line x1="277.9" y1="431.34" x2="275.8" y2="431.34" stroke="#222" stroke-width="0.8" />
<line x1="51.4" y1="430.64" x2="55" y2="430.64" stroke="#222" stroke-width="1.1" />
<line x1="277.9" y1="430.64" x2="274.3" y2="430.64" stroke="#222" stroke-width="1.1" />
<line x1="51.4" y1="426.07" x2="53.5" y2="426.07" stroke="#222" stroke-width="0.8" />
<line x1="277.9" y1="426.07" x2="275.8" y2="426.07" stroke="#222" stroke-width="0.8" />
<line x1="51.4" y1="423.39" x2="53.5" y2="423.39" stroke="#222" stroke-width="0.8" />
<line x1="277.9" y1="423.39" x2="275.8" y2="423.39" stroke="#222" stroke-width="0.8" />
<line x1="51.4" y1="421.49" x2="53.5" y2="421.49" stroke="#222" stroke-width="0.8" />
<line x1="277.9" y1="421.49" x2="275.8" y2="421.49" stroke="#222" stroke-width="0.8" />
<line x1="51.4" y1="420.02" x2="53.5" y2="420.02" stroke="#222" stroke-width="0.8" />
<line x1="277.9" y1="420.02" x2="275.8" y2="420.02" stroke="#222" stroke-width="0.8" />
<line x1="51.4" y1="418.82" x2="53.5" y2="418.82" stroke="#222" stroke-width="0.8" />
<line x1="277.9" y1="418.82" x2="275.8" y2="418.82" stroke="#222" stroke-width="0.8" />
<line x1="51.4" y1="417.8" x2="53.5" y2="417.8" stroke="#222" stroke-width="0.8" />
<line x1="277.9" y1="417.8" x2="275.8" y2="417.8" stroke="#222" stroke-width="0.8" />
<line x1="51.4" y1="416.92" x2="53.5" y2="416.92" stroke="#222" stroke-width="0.8" />
<line x1="277.9" y1="416.92" x2="275.8" y2="416.92" stroke="#222" stroke-width="0.8" />
<line x1="51.4" y1="416.15" x2="53.5" y2="416.15" stroke="#222" stroke-width="0.8" />
<line x1="277.9" y1="416.15" x2="275.8" y2="416.15" stroke="#222" stroke-width="0.8" />
<line x1="51.4" y1="415.45" x2="55" y2="415.45" stroke="#222" stroke-width="1.1" />
<line x1="277.9" y1="415.45" x2="274.3" y2="415.45" stroke="#222" stroke-width="1.1" />
<line x1="51.4" y1="410.88" x2="53.5" y2="410.88" stroke="#222" stroke-width="0.8" />
<line x1="277.9" y1="410.88" x2="275.8" y2="410.88" stroke="#222" stroke-width="0.8" />
<line x1="51.4" y1="408.2" x2="53.5" y2="408.2" stroke="#222" stroke-width="0.8" />
<line x1="277.9" y1="408.2" x2="275.8" y2="408.2" stroke="#222" stroke-width="0.8" />
<line x1="51.4" y1="406.3" x2="53.5" y2="406.3" stroke="#222" stroke-width="0.8" />
<line x1="277.9" y1="406.3" x2="275.8" y2="406.3" stroke="#222" stroke-width="0.8" />
<line x1="51.4" y1="404.83" x2="53.5" y2="404.83" stroke="#222" stroke-width="0.8" />
<line x1="277.9" y1="404.83" x2="275.8" y2="404.83" stroke="#222" stroke-width="0.8" />
<line x1="51.4" y1="403.63" x2="53.5" y2="403.63" stroke="#222" stroke-width="0.8" />
<line x1="277.9" y1="403.63" x2="275.8" y2="403.63" stroke="#222" stroke-width="0.8" />
<line x1="51.4" y1="402.61" x2="53.5" y2="402.61" stroke="#222" stroke-width="0.8" />
<line x1="277.9" y1="402.61" x2="275.8" y2="402.61" stroke="#222" stroke-width="0.8" />
<line x1="51.4" y1="401.73" x2="53.5" y2="401.73" stroke="#222" stroke-width="0.8" />
<line x1="277.9" y1="401.73" x2="275.8" y2="401.73" stroke="#222" stroke-width="0.8" />
<line x1="51.4" y1="400.96" x2="53.5" y2="400.96" stroke="#222" stroke-width="0.8" />
<line x1="277.9" y1="400.96" x2="275.8" y2="400.96" stroke="#222" stroke-width="0.8" />
<line x1="51.4" y1="400.26" x2="55" y2="400.26" stroke="#222" stroke-width="1.1" />
<line x1="277.9" y1="400.26" x2="274.3" y2="400.26" stroke="#222" stroke-width="1.1" />
<line x1="51.4" y1="395.69" x2="53.5" y2="395.69" stroke="#222" stroke-width="0.8" />
<line x1="277.9" y1="395.69" x2="275.8" y2="395.69" stroke="#222" stroke-width="0.8" />
<line x1="51.4" y1="393.01" x2="53.5" y2="393.01" stroke="#222" stroke-width="0.8" />
<line x1="277.9" y1="393.01" x2="275.8" y2="393.01" stroke="#222" stroke-width="0.8" />
<line x1="51.4" y1="391.11" x2="53.5" y2="391.11" stroke="#222" stroke-width="0.8" />
<line x1="277.9" y1="391.11" x2="275.8" y2="391.11" stroke="#222" stroke-width="0.8" />
<line x1="51.4" y1="389.64" x2="53.5" y2="389.64" stroke="#222" stroke-width="0.8" />
<line x1="277.9" y1="389.64" x2="275.8" y2="389.64" stroke="#222" stroke-width="0.8" />
<line x1="51.4" y1="388.44" x2="53.5" y2="388.44" stroke="#222" stroke-width="0.8" />
<line x1="277.9" y1="388.44" x2="275.8" y2="388.44" stroke="#222" stroke-width="0.8" />
<line x1="51.4" y1="387.42" x2="53.5" y2="387.42" stroke="#222" stroke-width="0.8" />
<line x1="277.9" y1="387.42" x2="275.8" y2="387.42" stroke="#222" stroke-width="0.8" />
<line x1="51.4" y1="386.54" x2="53.5" y2="386.54" stroke="#222" stroke-width="0.8" />
<line x1="277.9" y1="386.54" x2="275.8" y2="386.54" stroke="#222" stroke-width="0.8" />
<line x1="51.4" y1="385.77" x2="53.5" y2="385.77" stroke="#222" stroke-width="0.8" />
<line x1="277.9" y1="385.77" x2="275.8" y2="385.77" stroke="#222" stroke-width="0.8" />
<line x1="51.4" y1="385.07" x2="55" y2="385.07" stroke="#222" stroke-width="1.1" />
<line x1="277.9" y1="385.07" x2="274.3" y2="385.07" stroke="#222" stroke-width="1.1" />
<line x1="51.4" y1="380.5" x2="53.5" y2="380.5" stroke="#222" stroke-width="0.8" />
<line x1="277.9" y1="380.5" x2="275.8" y2="380.5" stroke="#222" stroke-width="0.8" />
<line x1="51.4" y1="377.82" x2="53.5" y2="377.82" stroke="#222" stroke-width="0.8" />
<line x1="277.9" y1="377.82" x2="275.8" y2="377.82" stroke="#222" stroke-width="0.8" />
<line x1="51.4" y1="375.92" x2="53.5" y2="375.92" stroke="#222" stroke-width="0.8" />
<line x1="277.9" y1="375.92" x2="275.8" y2="375.92" stroke="#222" stroke-width="0.8" />
<line x1="51.4" y1="374.45" x2="53.5" y2="374.45" stroke="#222" stroke-width="0.8" />
<line x1="277.9" y1="374.45" x2="275.8" y2="374.45" stroke="#222" stroke-width="0.8" />
<line x1="51.4" y1="373.25" x2="53.5" y2="373.25" stroke="#222" stroke-width="0.8" />
<line x1="277.9" y1="373.25" x2="275.8" y2="373.25" stroke="#222" stroke-width="0.8" />
<line x1="51.4" y1="372.23" x2="53.5" y2="372.23" stroke="#222" stroke-width="0.8" />
<line x1="277.9" y1="372.23" x2="275.8" y2="372.23" stroke="#222" stroke-width="0.8" />
<line x1="51.4" y1="371.35" x2="53.5" y2="371.35" stroke="#222" stroke-width="0.8" />
<line x1="277.9" y1="371.35" x2="275.8" y2="371.35" stroke="#222" stroke-width="0.8" />
<line x1="51.4" y1="370.58" x2="53.5" y2="370.58" stroke="#222" stroke-width="0.8" />
<line x1="277.9" y1="370.58" x2="275.8" y2="370.58" stroke="#222" stroke-width="0.8" />
<line x1="51.4" y1="369.88" x2="55" y2="369.88" stroke="#222" stroke-width="1.1" />
<line x1="277.9" y1="369.88" x2="274.3" y2="369.88" stroke="#222" stroke-width="1.1" />
<line x1="51.4" y1="365.31" x2="53.5" y2="365.31" stroke="#222" stroke-width="0.8" />
<line x1="277.9" y1="365.31" x2="275.8" y2="365.31" stroke="#222" stroke-width="0.8" />
<line x1="51.4" y1="362.63" x2="53.5" y2="362.63" stroke="#222" stroke-width="0.8" />
<line x1="277.9" y1="362.63" x2="275.8" y2="362.63" stroke="#222" stroke-width="0.8" />
<line x1="51.4" y1="360.73" x2="53.5" y2="360.73" stroke="#222" stroke-width="0.8" />
<line x1="277.9" y1="360.73" x2="275.8" y2="360.73" stroke="#222" stroke-width="0.8" />
<line x1="51.4" y1="359.26" x2="53.5" y2="359.26" stroke="#222" stroke-width="0.8" />
<line x1="277.9" y1="359.26" x2="275.8" y2="359.26" stroke="#222" stroke-width="0.8" />
<line x1="51.4" y1="358.06" x2="53.5" y2="358.06" stroke="#222" stroke-width="0.8" />
<line x1="277.9" y1="358.06" x2="275.8" y2="358.06" stroke="#222" stroke-width="0.8" />
<line x1="51.4" y1="357.04" x2="53.5" y2="357.04" stroke="#222" stroke-width="0.8" />
<line x1="277.9" y1="357.04" x2="275.8" y2="357.04" stroke="#222" stroke-width="0.8" />
<line x1="51.4" y1="356.16" x2="53.5" y2="356.16" stroke="#222" stroke-width="0.8" />
<line x1="277.9" y1="356.16" x2="275.8" y2="356.16" stroke="#222" stroke-width="0.8" />
<line x1="51.4" y1="355.39" x2="53.5" y2="355.39" stroke="#222" stroke-width="0.8" />
<line x1="277.9" y1="355.39" x2="275.8" y2="355.39" stroke="#222" stroke-width="0.8" />
<line x1="51.4" y1="354.69" x2="55" y2="354.69" stroke="#222" stroke-width="1.1" />
<line x1="277.9" y1="354.69" x2="274.3" y2="354.69" stroke="#222" stroke-width="1.1" />
<line x1="51.4" y1="350.12" x2="53.5" y2="350.12" stroke="#222" stroke-width="0.8" />
<line x1="277.9" y1="350.12" x2="275.8" y2="350.12" stroke="#222" stroke-width="0.8" />
<line x1="51.4" y1="347.44" x2="53.5" y2="347.44" stroke="#222" stroke-width="0.8" />
<line x1="277.9" y1="347.44" x2="275.8" y2="347.44" stroke="#222" stroke-width="0.8" />
<line x1="51.4" y1="345.54" x2="53.5" y2="345.54" stroke="#222" stroke-width="0.8" />
<line x1="277.9" y1="345.54" x2="275.8" y2="345.54" stroke="#222" stroke-width="0.8" />
<line x1="51.4" y1="344.07" x2="53.5" y2="344.07" stroke="#222" stroke-width="0.8" />
<line x1="277.9" y1="344.07" x2="275.8" y2="344.07" stroke="#222" stroke-width="0.8" />
<line x1="51.4" y1="342.87" x2="53.5" y2="342.87" stroke="#222" stroke-width="0.8" />
<line x1="277.9" y1="342.87" x2="275.8" y2="342.87" stroke="#222" stroke-width="0.8" />
<line x1="51.4" y1="341.85" x2="53.5" y2="341.85" stroke="#222" stroke-width="0.8" />
<line x1="277.9" y1="341.85" x2="275.8" y2="341.85" stroke="#222" stroke-width="0.8" />
<line x1="51.4" y1="340.97" x2="53.5" y2="340.97" stroke="#222" stroke-width="0.8" />
<line x1="277.9" y1="340.97" x2="275.8" y2="340.97" stroke="#222" stroke-width="0.8" />
<line x1="51.4" y1="340.2" x2="53.5" y2="340.2" stroke="#222" stroke-width="0.8" />
<line x1="277.9" y1="340.2" x2="275.8" y2="340.2" stroke="#222" stroke-width="0.8" />
<line x1="51.4" y1="339.5" x2="55" y2="339.5" stroke="#222" stroke-width="1.1" />
<line x1="277.9" y1="339.5" x2="274.3" y2="339.5" stroke="#222" stroke-width="1.1" />
<line x1="51.4" y1="334.93" x2="53.5" y2="334.93" stroke="#222" stroke-width="0.8" />
<line x1="277.9" y1="334.93" x2="275.8" y2="334.93" stroke="#222" stroke-width="0.8" />
<line x1="51.4" y1="332.25" x2="53.5" y2="332.25" stroke="#222" stroke-width="0.8" />
<line x1="277.9" y1="332.25" x2="275.8" y2="332.25" stroke="#222" stroke-width="0.8" />
<line x1="51.4" y1="330.35" x2="53.5" y2="330.35" stroke="#222" stroke-width="0.8" />
<line x1="277.9" y1="330.35" x2="275.8" y2="330.35" stroke="#222" stroke-width="0.8" />
<line x1="51.4" y1="328.88" x2="53.5" y2="328.88" stroke="#222" stroke-width="0.8" />
<line x1="277.9" y1="328.88" x2="275.8" y2="328.88" stroke="#222" stroke-width="0.8" />
<line x1="51.4" y1="327.68" x2="53.5" y2="327.68" stroke="#222" stroke-width="0.8" />
<line x1="277.9" y1="327.68" x2="275.8" y2="327.68" stroke="#222" stroke-width="0.8" />
<line x1="51.4" y1="326.66" x2="53.5" y2="326.66" stroke="#222" stroke-width="0.8" />
<line x1="277.9" y1="326.66" x2="275.8" y2="326.66" stroke="#222" stroke-width="0.8" />
<line x1="51.4" y1="325.78" x2="53.5" y2="325.78" stroke="#222" stroke-width="0.8" />
<line x1="277.9" y1="325.78" x2="275.8" y2="325.78" stroke="#222" stroke-width="0.8" />
<line x1="51.4" y1="325.01" x2="53.5" y2="325.01" stroke="#222" stroke-width="0.8" />
<line x1="277.9" y1="325.01" x2="275.8" y2="325.01" stroke="#222" stroke-width="0.8" />
<line x1="51.4" y1="324.31" x2="55" y2="324.31" stroke="#222" stroke-width="1.1" />
<line x1="277.9" y1="324.31" x2="274.3" y2="324.31" stroke="#222" stroke-width="1.1" />
<line x1="51.4" y1="319.74" x2="53.5" y2="319.74" stroke="#222" stroke-width="0.8" />
<line x1="277.9" y1="319.74" x2="275.8" y2="319.74" stroke="#222" stroke-width="0.8" />
<line x1="51.4" y1="317.06" x2="53.5" y2="317.06" stroke="#222" stroke-width="0.8" />
<line x1="277.9" y1="317.06" x2="275.8" y2="317.06" stroke="#222" stroke-width="0.8" />
<line x1="51.4" y1="315.16" x2="53.5" y2="315.16" stroke="#222" stroke-width="0.8" />
<line x1="277.9" y1="315.16" x2="275.8" y2="315.16" stroke="#222" stroke-width="0.8" />
<line x1="51.4" y1="313.69" x2="53.5" y2="313.69" stroke="#222" stroke-width="0.8" />
<line x1="277.9" y1="313.69" x2="275.8" y2="313.69" stroke="#222" stroke-width="0.8" />
<line x1="51.4" y1="312.49" x2="53.5" y2="312.49" stroke="#222" stroke-width="0.8" />
<line x1="277.9" y1="312.49" x2="275.8" y2="312.49" stroke="#222" stroke-width="0.8" />
<line x1="51.4" y1="311.47" x2="53.5" y2="311.47" stroke="#222" stroke-width="0.8" />
<line x1="277.9" y1="311.47" x2="275.8" y2="311.47" stroke="#222" stroke-width="0.8" />
<line x1="51.4" y1="310.59" x2="53.5" y2="310.59" stroke="#222" stroke-width="0.8" />
<line x1="277.9" y1="310.59" x2="275.8" y2="310.59" stroke="#222" stroke-width="0.8" />
<line x1="51.4" y1="309.82" x2="53.5" y2="309.82" stroke="#222" stroke-width="0.8" />
<line x1="277.9" y1="309.82" x2="275.8" y2="309.82" stroke="#222" stroke-width="0.8" />
<line x1="51.4" y1="309.12" x2="55" y2="309.12" stroke="#222" stroke-width="1.1" />
<line x1="277.9" y1="309.12" x2="274.3" y2="309.12" stroke="#222" stroke-width="1.1" />
<line x1="51.4" y1="304.55" x2="53.5" y2="304.55" stroke="#222" stroke-width="0.8" />
<line x1="277.9" y1="304.55" x2="275.8" y2="304.55" stroke="#222" stroke-width="0.8" />
<line x1="51.4" y1="301.87" x2="53.5" y2="301.87" stroke="#222" stroke-width="0.8" />
<line x1="277.9" y1="301.87" x2="275.8" y2="301.87" stroke="#222" stroke-width="0.8" />
<line x1="51.4" y1="299.97" x2="53.5" y2="299.97" stroke="#222" stroke-width="0.8" />
<line x1="277.9" y1="299.97" x2="275.8" y2="299.97" stroke="#222" stroke-width="0.8" />
<line x1="51.4" y1="298.5" x2="53.5" y2="298.5" stroke="#222" stroke-width="0.8" />
<line x1="277.9" y1="298.5" x2="275.8" y2="298.5" stroke="#222" stroke-width="0.8" />
<line x1="51.4" y1="297.3" x2="53.5" y2="297.3" stroke="#222" stroke-width="0.8" />
<line x1="277.9" y1="297.3" x2="275.8" y2="297.3" stroke="#222" stroke-width="0.8" />
<line x1="51.4" y1="296.28" x2="53.5" y2="296.28" stroke="#222" stroke-width="0.8" />
<line x1="277.9" y1="296.28" x2="275.8" y2="296.28" stroke="#222" stroke-width="0.8" />
<line x1="51.4" y1="295.4" x2="53.5" y2="295.4" stroke="#222" stroke-width="0.8" />
<line x1="277.9" y1="295.4" x2="275.8" y2="295.4" stroke="#222" stroke-width="0.8" />
<line x1="51.4" y1="294.63" x2="53.5" y2="294.63" stroke="#222" stroke-width="0.8" />
<line x1="277.9" y1="294.63" x2="275.8" y2="294.63" stroke="#222" stroke-width="0.8" />
<text x="27.62" y="310.62" font-size="10" fill="#222">10<tspan dx="0.6" dy="-4.6" font-size="7.3" textLength="4.06" lengthAdjust="spacingAndGlyphs">3</tspan></text>
<text x="284.4" y="312.42" font-size="10" fill="#222">10<tspan dx="0.6" dy="-4.6" font-size="7.3" textLength="4.06" lengthAdjust="spacingAndGlyphs">2</tspan></text>
<text x="28.76" y="341" font-size="10" fill="#222">10<tspan dx="0.6" dy="-4.6" font-size="7.3" textLength="2.92" lengthAdjust="spacingAndGlyphs">1</tspan></text>
<text x="284.4" y="342.8" font-size="10" fill="#222">10<tspan dx="0.6" dy="-4.6" font-size="7.3" textLength="4.06" lengthAdjust="spacingAndGlyphs">0</tspan></text>
<text x="25.69" y="371.38" font-size="10" fill="#222">10<tspan dx="0.6" dy="-4.6" font-size="7.3" textLength="5.99" lengthAdjust="spacingAndGlyphs">&#8722;1</tspan></text>
<text x="284.4" y="373.18" font-size="10" fill="#222">10<tspan dx="0.6" dy="-4.6" font-size="7.3" textLength="7.12" lengthAdjust="spacingAndGlyphs">&#8722;2</tspan></text>
<text x="24.56" y="401.76" font-size="10" fill="#222">10<tspan dx="0.6" dy="-4.6" font-size="7.3" textLength="7.12" lengthAdjust="spacingAndGlyphs">&#8722;3</tspan></text>
<text x="284.4" y="403.56" font-size="10" fill="#222">10<tspan dx="0.6" dy="-4.6" font-size="7.3" textLength="7.12" lengthAdjust="spacingAndGlyphs">&#8722;4</tspan></text>
<text x="24.56" y="432.14" font-size="10" fill="#222">10<tspan dx="0.6" dy="-4.6" font-size="7.3" textLength="7.12" lengthAdjust="spacingAndGlyphs">&#8722;5</tspan></text>
<text x="284.4" y="433.94" font-size="10" fill="#222">10<tspan dx="0.6" dy="-4.6" font-size="7.3" textLength="7.12" lengthAdjust="spacingAndGlyphs">&#8722;6</tspan></text>
<text x="24.56" y="462.52" font-size="10" fill="#222">10<tspan dx="0.6" dy="-4.6" font-size="7.3" textLength="7.12" lengthAdjust="spacingAndGlyphs">&#8722;7</tspan></text>
<text x="284.4" y="464.32" font-size="10" fill="#222">10<tspan dx="0.6" dy="-4.6" font-size="7.3" textLength="7.12" lengthAdjust="spacingAndGlyphs">&#8722;8</tspan></text>
<text x="24.56" y="492.9" font-size="10" fill="#222">10<tspan dx="0.6" dy="-4.6" font-size="7.3" textLength="7.12" lengthAdjust="spacingAndGlyphs">&#8722;9</tspan></text>
<text x="284.4" y="494.7" font-size="10" fill="#222">10<tspan dx="0.6" dy="-4.6" font-size="7.3" textLength="10.04" lengthAdjust="spacingAndGlyphs">&#8722;10</tspan></text>
<line x1="51.1" y1="491.4" x2="51.1" y2="488.4" stroke="#3a3a3a" stroke-width="0.9" />
<text x="52.9" y="505" font-size="10" fill="#222" text-anchor="middle" >&#8722;12</text>
<line x1="88.2" y1="491.4" x2="88.2" y2="488.4" stroke="#3a3a3a" stroke-width="0.9" />
<text x="87" y="505" font-size="10" fill="#222" text-anchor="middle" >&#8722;10</text>
<line x1="125.3" y1="491.4" x2="125.3" y2="488.4" stroke="#3a3a3a" stroke-width="0.9" />
<text x="124.1" y="505" font-size="10" fill="#222" text-anchor="middle" >&#8722;8</text>
<line x1="162.4" y1="491.4" x2="162.4" y2="488.4" stroke="#3a3a3a" stroke-width="0.9" />
<text x="161.2" y="505" font-size="10" fill="#222" text-anchor="middle" >&#8722;6</text>
<line x1="199.5" y1="491.4" x2="199.5" y2="488.4" stroke="#3a3a3a" stroke-width="0.9" />
<text x="198.3" y="505" font-size="10" fill="#222" text-anchor="middle" >&#8722;4</text>
<line x1="236.6" y1="491.4" x2="236.6" y2="488.4" stroke="#3a3a3a" stroke-width="0.9" />
<text x="235.4" y="505" font-size="10" fill="#222" text-anchor="middle" >&#8722;2</text>
<line x1="273.7" y1="491.4" x2="273.7" y2="488.4" stroke="#3a3a3a" stroke-width="0.9" />
<text x="273.7" y="505" font-size="10" fill="#222" text-anchor="middle" >0</text>
<text transform="translate(12.4,392.7) rotate(-90)" font-size="12.6" fill="#222" text-anchor="middle"><tspan font-style="italic">I</tspan><tspan font-size="8.5" dy="2.2" font-style="normal">D</tspan><tspan dy="-2.2" font-size="1">&#8203;</tspan> (mA mm<tspan font-size="8" dy="-4.5" font-style="normal">&#8722;1</tspan><tspan dy="4.5" font-size="1">&#8203;</tspan>)</text>
<text transform="translate(316.2,393.3) rotate(90)" font-size="12.6" fill="#8b1a1a" text-anchor="middle">g<tspan font-size="8.5" dy="2.2" font-style="normal">m</tspan><tspan dy="-2.2" font-size="1">&#8203;</tspan> (mS mm<tspan font-size="8" dy="-4.5" font-style="normal">&#8722;1</tspan><tspan dy="4.5" font-size="1">&#8203;</tspan>)</text>
<text x="164.5" y="525.2" font-size="12.2" fill="#222" text-anchor="middle" textLength="37.4" lengthAdjust="spacingAndGlyphs"><tspan font-style="italic">V</tspan><tspan font-size="8.2" dy="2.2" font-style="normal">GS</tspan><tspan dy="-2.2" font-size="1">&#8203;</tspan> (V)</text>
<text x="101.6" y="309.6" font-size="10.6" fill="#8b1a1a" text-anchor="start" ><tspan font-style="italic">P</tspan><tspan font-size="6.8" dy="2.0" font-style="normal">sandwiched</tspan><tspan dy="-2.0" font-size="1">&#8203;</tspan></text>
<text x="188.2" y="310.8" font-size="10.6" fill="#8b1a1a" text-anchor="start" ><tspan font-style="italic">P</tspan><tspan font-size="6.8" dy="2.0" font-style="normal">bottom</tspan><tspan dy="-2.0" font-size="1">&#8203;</tspan></text>
<text x="235.8" y="359.8" font-size="10.6" fill="#8b1a1a" text-anchor="start" ><tspan font-style="italic">P</tspan><tspan font-size="6.8" dy="2.0" font-style="normal">top</tspan><tspan dy="-2.0" font-size="1">&#8203;</tspan></text>
<line x1="58.1" y1="321.6" x2="58.1" y2="366.5" stroke="#333" stroke-width="1.0" />
<polygon points="58.1,370.2 56.1,364.7 60.1,364.7" fill="#222" />
<text x="60.4" y="340.2" font-size="10.6" fill="#222" text-anchor="start" >-1/10<tspan font-size="7" dy="-4.4" font-style="normal">3</tspan><tspan dy="4.4" font-size="1">&#8203;</tspan></text>
<line x1="104.7" y1="352.4" x2="104.7" y2="370.4" stroke="#000" stroke-width="1.7" stroke-dasharray="5 2"/>
<polygon points="128.4,444.1 152.9,444.1 152.9,382.9 211.1,382.9 211.1,444.1 236.1,444.1 236.1,448.7 128.4,448.7" fill="#ffff00" />
<rect x="152.9" y="382.9" width="58.2" height="65.8" fill="#ffff00" />
<polygon points="128.4,448.6 160.2,448.6 160.2,388.2 205.1,388.2 205.1,448.6 236.1,448.6 236.1,452.4 128.4,452.4" fill="#002060" />
<rect x="160.2" y="388.2" width="44.9" height="64.2" fill="#002060" />
<rect x="128.4" y="452.3" width="107.7" height="19.4" fill="#8b4010" />
<rect x="164.1" y="392.8" width="36.6" height="62" fill="#8b4010" />
<rect x="164.1" y="398.9" width="36.6" height="2.8" fill="#f08228" />
<rect x="164.1" y="403.62" width="36.6" height="2.8" fill="#f08228" />
<rect x="164.1" y="408.34" width="36.6" height="2.8" fill="#f08228" />
<rect x="164.1" y="413.06" width="36.6" height="2.8" fill="#f08228" />
<rect x="164.1" y="417.78" width="36.6" height="2.8" fill="#f08228" />
<rect x="164.1" y="422.5" width="36.6" height="2.8" fill="#f08228" />
<rect x="164.1" y="427.22" width="36.6" height="2.8" fill="#f08228" />
<rect x="164.1" y="431.94" width="36.6" height="2.8" fill="#f08228" />
<rect x="164.1" y="436.66" width="36.6" height="2.8" fill="#f08228" />
<line x1="141.7" y1="403.3" x2="165.5" y2="403.3" stroke="#111" stroke-width="1.1" />
<line x1="141.7" y1="435.3" x2="165.5" y2="435.3" stroke="#111" stroke-width="1.1" />
<line x1="146.7" y1="407" x2="146.7" y2="431.5" stroke="#111" stroke-width="1.1" />
<polygon points="146.7,403.6 148.8,408.4 144.6,408.4" fill="#111" />
<polygon points="146.7,435 144.6,430.2 148.8,430.2" fill="#111" />
<text transform="translate(135.4,440.2) rotate(-90)" font-size="9.2" fill="#8b1a1a" textLength="48.6" lengthAdjust="spacingAndGlyphs">Sandwiched</text>
<line x1="209.5" y1="397.7" x2="232.8" y2="397.7" stroke="#111" stroke-width="1.1" />
<line x1="209.5" y1="405.3" x2="232.8" y2="405.3" stroke="#111" stroke-width="1.1" />
<line x1="209.5" y1="436.3" x2="232.8" y2="436.3" stroke="#111" stroke-width="1.1" />
<line x1="209.5" y1="443.5" x2="232.8" y2="443.5" stroke="#111" stroke-width="1.1" />
<line x1="222.7" y1="387.5" x2="222.7" y2="394.5" stroke="#111" stroke-width="1.1" />
<polygon points="222.7,397.5 220.6,392.5 224.8,392.5" fill="#111" />
<line x1="222.7" y1="416.5" x2="222.7" y2="408.5" stroke="#111" stroke-width="1.1" />
<polygon points="222.7,405.5 224.8,410.5 220.6,410.5" fill="#111" />
<line x1="222.7" y1="426.4" x2="222.7" y2="433.2" stroke="#111" stroke-width="1.1" />
<polygon points="222.7,436.1 220.6,431.1 224.8,431.1" fill="#111" />
<line x1="222.7" y1="454.3" x2="222.7" y2="446.8" stroke="#111" stroke-width="1.1" />
<polygon points="222.7,443.7 224.8,448.7 220.6,448.7" fill="#111" />
<text x="237.7" y="412.5" font-size="10.4" fill="#8b1a1a" text-anchor="start" >Top</text>
<text x="237.7" y="445" font-size="10.4" fill="#8b1a1a" text-anchor="start" textLength="35" lengthAdjust="spacingAndGlyphs">Bottom</text>
</g>
<g id="panel-d">
<text x="349.6" y="302.3" font-size="18.5" fill="#000" text-anchor="start" font-weight="bold">d</text>
<path d="M403.6 473.9C404.72 473.9 409.73 473.91 412 473.9C414.27 473.89 418.93 473.89 420.6 473.8C422.27 473.71 423.5 473.49 424.5 473.2C425.5 472.91 427.3 472.27 428.1 471.6C428.9 470.93 429.83 469.33 430.5 468.2C431.17 467.07 432.09 465.45 433.1 463.1C434.11 460.75 436.77 454.27 438.1 450.6C439.43 446.93 441.42 440.28 443.1 435.6C444.78 430.92 448.86 420.31 450.7 415.5C452.54 410.69 455.66 402.47 456.9 399.5C458.14 396.53 459.16 394.64 460 393.2C460.84 391.76 462.29 389.82 463.2 388.7C464.11 387.58 465.8 385.73 466.8 384.8C467.8 383.87 468.85 382.85 470.7 381.7C472.55 380.55 477.7 377.87 480.7 376.2C483.7 374.53 489.87 371.01 493.2 369.2C496.53 367.39 502.93 363.99 505.7 362.6C508.47 361.21 510.89 360.16 514 358.8C517.11 357.44 524.67 354.16 529 352.4C533.33 350.64 541.15 347.44 546.5 345.6C551.85 343.76 562.75 340.47 569.1 338.6C575.45 336.73 588.09 333.11 594.1 331.6C600.11 330.09 608.72 328.37 614.2 327.3C619.68 326.23 632.4 324.09 635.2 323.6" fill="none" stroke="#2e2e2e" stroke-width="2.3" stroke-linejoin="round"/>
<path d="M403.6 478.1C404.27 478.19 407.55 478.39 408.6 478.8C409.65 479.21 410.9 480.6 411.5 481.2C412.1 481.8 412.77 483.39 413.1 483.3C413.43 483.21 413.67 481.86 414 480.5C414.33 479.14 414.72 476.75 415.6 473.1C416.48 469.45 419.41 457.71 420.6 453.1C421.79 448.49 423.5 441.85 424.5 438.5C425.5 435.15 426.95 431.07 428.1 428C429.25 424.93 431.66 419.37 433.1 415.5C434.54 411.63 437.22 403.91 438.9 399C440.58 394.09 444.29 382.67 445.7 378.7C447.11 374.73 448.5 371.37 449.5 369.2C450.5 367.03 452.23 364.03 453.2 362.4C454.17 360.77 455.8 358.24 456.8 357C457.8 355.76 459.18 354.19 460.7 353.1C462.22 352.01 465.87 349.8 468.2 348.8C470.53 347.8 475.53 346.63 478.2 345.6C480.87 344.57 485.53 342.53 488.2 341.1C490.87 339.67 495.87 336.23 498.2 334.9C500.53 333.57 503.59 331.94 505.7 331.1C507.81 330.26 510.56 329.6 514 328.6C517.44 327.6 526.82 324.84 531.5 323.6C536.18 322.36 544.09 320.63 549.1 319.3C554.11 317.97 563.77 315.09 569.1 313.6C574.43 312.11 583.09 309.54 589.1 308.1C595.11 306.66 608.05 303.91 614.2 302.8C620.35 301.69 632.4 300.2 635.2 299.8" fill="none" stroke="#8b0a0a" stroke-width="2.3" stroke-linejoin="round"/>
<rect x="403.6" y="299.3" width="232.1" height="194.6" fill="none" stroke="#222" stroke-width="1.1"/>
<line x1="403.6" y1="488.62" x2="405.9" y2="488.62" stroke="#222" stroke-width="0.8" />
<line x1="635.7" y1="488.62" x2="633.4" y2="488.62" stroke="#222" stroke-width="0.8" />
<line x1="403.6" y1="485.54" x2="405.9" y2="485.54" stroke="#222" stroke-width="0.8" />
<line x1="635.7" y1="485.54" x2="633.4" y2="485.54" stroke="#222" stroke-width="0.8" />
<line x1="403.6" y1="483.35" x2="405.9" y2="483.35" stroke="#222" stroke-width="0.8" />
<line x1="635.7" y1="483.35" x2="633.4" y2="483.35" stroke="#222" stroke-width="0.8" />
<line x1="403.6" y1="481.65" x2="405.9" y2="481.65" stroke="#222" stroke-width="0.8" />
<line x1="635.7" y1="481.65" x2="633.4" y2="481.65" stroke="#222" stroke-width="0.8" />
<line x1="403.6" y1="480.26" x2="405.9" y2="480.26" stroke="#222" stroke-width="0.8" />
<line x1="635.7" y1="480.26" x2="633.4" y2="480.26" stroke="#222" stroke-width="0.8" />
<line x1="403.6" y1="479.09" x2="405.9" y2="479.09" stroke="#222" stroke-width="0.8" />
<line x1="635.7" y1="479.09" x2="633.4" y2="479.09" stroke="#222" stroke-width="0.8" />
<line x1="403.6" y1="478.07" x2="405.9" y2="478.07" stroke="#222" stroke-width="0.8" />
<line x1="635.7" y1="478.07" x2="633.4" y2="478.07" stroke="#222" stroke-width="0.8" />
<line x1="403.6" y1="477.17" x2="405.9" y2="477.17" stroke="#222" stroke-width="0.8" />
<line x1="635.7" y1="477.17" x2="633.4" y2="477.17" stroke="#222" stroke-width="0.8" />
<line x1="403.6" y1="476.37" x2="407.9" y2="476.37" stroke="#222" stroke-width="1.1" />
<line x1="635.7" y1="476.37" x2="631.4" y2="476.37" stroke="#222" stroke-width="1.1" />
<line x1="403.6" y1="471.09" x2="405.9" y2="471.09" stroke="#222" stroke-width="0.8" />
<line x1="635.7" y1="471.09" x2="633.4" y2="471.09" stroke="#222" stroke-width="0.8" />
<line x1="403.6" y1="468.01" x2="405.9" y2="468.01" stroke="#222" stroke-width="0.8" />
<line x1="635.7" y1="468.01" x2="633.4" y2="468.01" stroke="#222" stroke-width="0.8" />
<line x1="403.6" y1="465.82" x2="405.9" y2="465.82" stroke="#222" stroke-width="0.8" />
<line x1="635.7" y1="465.82" x2="633.4" y2="465.82" stroke="#222" stroke-width="0.8" />
<line x1="403.6" y1="464.12" x2="405.9" y2="464.12" stroke="#222" stroke-width="0.8" />
<line x1="635.7" y1="464.12" x2="633.4" y2="464.12" stroke="#222" stroke-width="0.8" />
<line x1="403.6" y1="462.73" x2="405.9" y2="462.73" stroke="#222" stroke-width="0.8" />
<line x1="635.7" y1="462.73" x2="633.4" y2="462.73" stroke="#222" stroke-width="0.8" />
<line x1="403.6" y1="461.56" x2="405.9" y2="461.56" stroke="#222" stroke-width="0.8" />
<line x1="635.7" y1="461.56" x2="633.4" y2="461.56" stroke="#222" stroke-width="0.8" />
<line x1="403.6" y1="460.54" x2="405.9" y2="460.54" stroke="#222" stroke-width="0.8" />
<line x1="635.7" y1="460.54" x2="633.4" y2="460.54" stroke="#222" stroke-width="0.8" />
<line x1="403.6" y1="459.64" x2="405.9" y2="459.64" stroke="#222" stroke-width="0.8" />
<line x1="635.7" y1="459.64" x2="633.4" y2="459.64" stroke="#222" stroke-width="0.8" />
<line x1="403.6" y1="458.84" x2="407.9" y2="458.84" stroke="#222" stroke-width="1.1" />
<line x1="635.7" y1="458.84" x2="631.4" y2="458.84" stroke="#222" stroke-width="1.1" />
<line x1="403.6" y1="453.56" x2="405.9" y2="453.56" stroke="#222" stroke-width="0.8" />
<line x1="635.7" y1="453.56" x2="633.4" y2="453.56" stroke="#222" stroke-width="0.8" />
<line x1="403.6" y1="450.48" x2="405.9" y2="450.48" stroke="#222" stroke-width="0.8" />
<line x1="635.7" y1="450.48" x2="633.4" y2="450.48" stroke="#222" stroke-width="0.8" />
<line x1="403.6" y1="448.29" x2="405.9" y2="448.29" stroke="#222" stroke-width="0.8" />
<line x1="635.7" y1="448.29" x2="633.4" y2="448.29" stroke="#222" stroke-width="0.8" />
<line x1="403.6" y1="446.59" x2="405.9" y2="446.59" stroke="#222" stroke-width="0.8" />
<line x1="635.7" y1="446.59" x2="633.4" y2="446.59" stroke="#222" stroke-width="0.8" />
<line x1="403.6" y1="445.2" x2="405.9" y2="445.2" stroke="#222" stroke-width="0.8" />
<line x1="635.7" y1="445.2" x2="633.4" y2="445.2" stroke="#222" stroke-width="0.8" />
<line x1="403.6" y1="444.03" x2="405.9" y2="444.03" stroke="#222" stroke-width="0.8" />
<line x1="635.7" y1="444.03" x2="633.4" y2="444.03" stroke="#222" stroke-width="0.8" />
<line x1="403.6" y1="443.01" x2="405.9" y2="443.01" stroke="#222" stroke-width="0.8" />
<line x1="635.7" y1="443.01" x2="633.4" y2="443.01" stroke="#222" stroke-width="0.8" />
<line x1="403.6" y1="442.11" x2="405.9" y2="442.11" stroke="#222" stroke-width="0.8" />
<line x1="635.7" y1="442.11" x2="633.4" y2="442.11" stroke="#222" stroke-width="0.8" />
<line x1="403.6" y1="441.31" x2="407.9" y2="441.31" stroke="#222" stroke-width="1.1" />
<line x1="635.7" y1="441.31" x2="631.4" y2="441.31" stroke="#222" stroke-width="1.1" />
<line x1="403.6" y1="436.03" x2="405.9" y2="436.03" stroke="#222" stroke-width="0.8" />
<line x1="635.7" y1="436.03" x2="633.4" y2="436.03" stroke="#222" stroke-width="0.8" />
<line x1="403.6" y1="432.95" x2="405.9" y2="432.95" stroke="#222" stroke-width="0.8" />
<line x1="635.7" y1="432.95" x2="633.4" y2="432.95" stroke="#222" stroke-width="0.8" />
<line x1="403.6" y1="430.76" x2="405.9" y2="430.76" stroke="#222" stroke-width="0.8" />
<line x1="635.7" y1="430.76" x2="633.4" y2="430.76" stroke="#222" stroke-width="0.8" />
<line x1="403.6" y1="429.06" x2="405.9" y2="429.06" stroke="#222" stroke-width="0.8" />
<line x1="635.7" y1="429.06" x2="633.4" y2="429.06" stroke="#222" stroke-width="0.8" />
<line x1="403.6" y1="427.67" x2="405.9" y2="427.67" stroke="#222" stroke-width="0.8" />
<line x1="635.7" y1="427.67" x2="633.4" y2="427.67" stroke="#222" stroke-width="0.8" />
<line x1="403.6" y1="426.5" x2="405.9" y2="426.5" stroke="#222" stroke-width="0.8" />
<line x1="635.7" y1="426.5" x2="633.4" y2="426.5" stroke="#222" stroke-width="0.8" />
<line x1="403.6" y1="425.48" x2="405.9" y2="425.48" stroke="#222" stroke-width="0.8" />
<line x1="635.7" y1="425.48" x2="633.4" y2="425.48" stroke="#222" stroke-width="0.8" />
<line x1="403.6" y1="424.58" x2="405.9" y2="424.58" stroke="#222" stroke-width="0.8" />
<line x1="635.7" y1="424.58" x2="633.4" y2="424.58" stroke="#222" stroke-width="0.8" />
<line x1="403.6" y1="423.78" x2="407.9" y2="423.78" stroke="#222" stroke-width="1.1" />
<line x1="635.7" y1="423.78" x2="631.4" y2="423.78" stroke="#222" stroke-width="1.1" />
<line x1="403.6" y1="418.5" x2="405.9" y2="418.5" stroke="#222" stroke-width="0.8" />
<line x1="635.7" y1="418.5" x2="633.4" y2="418.5" stroke="#222" stroke-width="0.8" />
<line x1="403.6" y1="415.42" x2="405.9" y2="415.42" stroke="#222" stroke-width="0.8" />
<line x1="635.7" y1="415.42" x2="633.4" y2="415.42" stroke="#222" stroke-width="0.8" />
<line x1="403.6" y1="413.23" x2="405.9" y2="413.23" stroke="#222" stroke-width="0.8" />
<line x1="635.7" y1="413.23" x2="633.4" y2="413.23" stroke="#222" stroke-width="0.8" />
<line x1="403.6" y1="411.53" x2="405.9" y2="411.53" stroke="#222" stroke-width="0.8" />
<line x1="635.7" y1="411.53" x2="633.4" y2="411.53" stroke="#222" stroke-width="0.8" />
<line x1="403.6" y1="410.14" x2="405.9" y2="410.14" stroke="#222" stroke-width="0.8" />
<line x1="635.7" y1="410.14" x2="633.4" y2="410.14" stroke="#222" stroke-width="0.8" />
<line x1="403.6" y1="408.97" x2="405.9" y2="408.97" stroke="#222" stroke-width="0.8" />
<line x1="635.7" y1="408.97" x2="633.4" y2="408.97" stroke="#222" stroke-width="0.8" />
<line x1="403.6" y1="407.95" x2="405.9" y2="407.95" stroke="#222" stroke-width="0.8" />
<line x1="635.7" y1="407.95" x2="633.4" y2="407.95" stroke="#222" stroke-width="0.8" />
<line x1="403.6" y1="407.05" x2="405.9" y2="407.05" stroke="#222" stroke-width="0.8" />
<line x1="635.7" y1="407.05" x2="633.4" y2="407.05" stroke="#222" stroke-width="0.8" />
<line x1="403.6" y1="406.25" x2="407.9" y2="406.25" stroke="#222" stroke-width="1.1" />
<line x1="635.7" y1="406.25" x2="631.4" y2="406.25" stroke="#222" stroke-width="1.1" />
<line x1="403.6" y1="400.97" x2="405.9" y2="400.97" stroke="#222" stroke-width="0.8" />
<line x1="635.7" y1="400.97" x2="633.4" y2="400.97" stroke="#222" stroke-width="0.8" />
<line x1="403.6" y1="397.89" x2="405.9" y2="397.89" stroke="#222" stroke-width="0.8" />
<line x1="635.7" y1="397.89" x2="633.4" y2="397.89" stroke="#222" stroke-width="0.8" />
<line x1="403.6" y1="395.7" x2="405.9" y2="395.7" stroke="#222" stroke-width="0.8" />
<line x1="635.7" y1="395.7" x2="633.4" y2="395.7" stroke="#222" stroke-width="0.8" />
<line x1="403.6" y1="394" x2="405.9" y2="394" stroke="#222" stroke-width="0.8" />
<line x1="635.7" y1="394" x2="633.4" y2="394" stroke="#222" stroke-width="0.8" />
<line x1="403.6" y1="392.61" x2="405.9" y2="392.61" stroke="#222" stroke-width="0.8" />
<line x1="635.7" y1="392.61" x2="633.4" y2="392.61" stroke="#222" stroke-width="0.8" />
<line x1="403.6" y1="391.44" x2="405.9" y2="391.44" stroke="#222" stroke-width="0.8" />
<line x1="635.7" y1="391.44" x2="633.4" y2="391.44" stroke="#222" stroke-width="0.8" />
<line x1="403.6" y1="390.42" x2="405.9" y2="390.42" stroke="#222" stroke-width="0.8" />
<line x1="635.7" y1="390.42" x2="633.4" y2="390.42" stroke="#222" stroke-width="0.8" />
<line x1="403.6" y1="389.52" x2="405.9" y2="389.52" stroke="#222" stroke-width="0.8" />
<line x1="635.7" y1="389.52" x2="633.4" y2="389.52" stroke="#222" stroke-width="0.8" />
<line x1="403.6" y1="388.72" x2="407.9" y2="388.72" stroke="#222" stroke-width="1.1" />
<line x1="635.7" y1="388.72" x2="631.4" y2="388.72" stroke="#222" stroke-width="1.1" />
<line x1="403.6" y1="383.44" x2="405.9" y2="383.44" stroke="#222" stroke-width="0.8" />
<line x1="635.7" y1="383.44" x2="633.4" y2="383.44" stroke="#222" stroke-width="0.8" />
<line x1="403.6" y1="380.36" x2="405.9" y2="380.36" stroke="#222" stroke-width="0.8" />
<line x1="635.7" y1="380.36" x2="633.4" y2="380.36" stroke="#222" stroke-width="0.8" />
<line x1="403.6" y1="378.17" x2="405.9" y2="378.17" stroke="#222" stroke-width="0.8" />
<line x1="635.7" y1="378.17" x2="633.4" y2="378.17" stroke="#222" stroke-width="0.8" />
<line x1="403.6" y1="376.47" x2="405.9" y2="376.47" stroke="#222" stroke-width="0.8" />
<line x1="635.7" y1="376.47" x2="633.4" y2="376.47" stroke="#222" stroke-width="0.8" />
<line x1="403.6" y1="375.08" x2="405.9" y2="375.08" stroke="#222" stroke-width="0.8" />
<line x1="635.7" y1="375.08" x2="633.4" y2="375.08" stroke="#222" stroke-width="0.8" />
<line x1="403.6" y1="373.91" x2="405.9" y2="373.91" stroke="#222" stroke-width="0.8" />
<line x1="635.7" y1="373.91" x2="633.4" y2="373.91" stroke="#222" stroke-width="0.8" />
<line x1="403.6" y1="372.89" x2="405.9" y2="372.89" stroke="#222" stroke-width="0.8" />
<line x1="635.7" y1="372.89" x2="633.4" y2="372.89" stroke="#222" stroke-width="0.8" />
<line x1="403.6" y1="371.99" x2="405.9" y2="371.99" stroke="#222" stroke-width="0.8" />
<line x1="635.7" y1="371.99" x2="633.4" y2="371.99" stroke="#222" stroke-width="0.8" />
<line x1="403.6" y1="371.19" x2="407.9" y2="371.19" stroke="#222" stroke-width="1.1" />
<line x1="635.7" y1="371.19" x2="631.4" y2="371.19" stroke="#222" stroke-width="1.1" />
<line x1="403.6" y1="365.91" x2="405.9" y2="365.91" stroke="#222" stroke-width="0.8" />
<line x1="635.7" y1="365.91" x2="633.4" y2="365.91" stroke="#222" stroke-width="0.8" />
<line x1="403.6" y1="362.83" x2="405.9" y2="362.83" stroke="#222" stroke-width="0.8" />
<line x1="635.7" y1="362.83" x2="633.4" y2="362.83" stroke="#222" stroke-width="0.8" />
<line x1="403.6" y1="360.64" x2="405.9" y2="360.64" stroke="#222" stroke-width="0.8" />
<line x1="635.7" y1="360.64" x2="633.4" y2="360.64" stroke="#222" stroke-width="0.8" />
<line x1="403.6" y1="358.94" x2="405.9" y2="358.94" stroke="#222" stroke-width="0.8" />
<line x1="635.7" y1="358.94" x2="633.4" y2="358.94" stroke="#222" stroke-width="0.8" />
<line x1="403.6" y1="357.55" x2="405.9" y2="357.55" stroke="#222" stroke-width="0.8" />
<line x1="635.7" y1="357.55" x2="633.4" y2="357.55" stroke="#222" stroke-width="0.8" />
<line x1="403.6" y1="356.38" x2="405.9" y2="356.38" stroke="#222" stroke-width="0.8" />
<line x1="635.7" y1="356.38" x2="633.4" y2="356.38" stroke="#222" stroke-width="0.8" />
<line x1="403.6" y1="355.36" x2="405.9" y2="355.36" stroke="#222" stroke-width="0.8" />
<line x1="635.7" y1="355.36" x2="633.4" y2="355.36" stroke="#222" stroke-width="0.8" />
<line x1="403.6" y1="354.46" x2="405.9" y2="354.46" stroke="#222" stroke-width="0.8" />
<line x1="635.7" y1="354.46" x2="633.4" y2="354.46" stroke="#222" stroke-width="0.8" />
<line x1="403.6" y1="353.66" x2="407.9" y2="353.66" stroke="#222" stroke-width="1.1" />
<line x1="635.7" y1="353.66" x2="631.4" y2="353.66" stroke="#222" stroke-width="1.1" />
<line x1="403.6" y1="348.38" x2="405.9" y2="348.38" stroke="#222" stroke-width="0.8" />
<line x1="635.7" y1="348.38" x2="633.4" y2="348.38" stroke="#222" stroke-width="0.8" />
<line x1="403.6" y1="345.3" x2="405.9" y2="345.3" stroke="#222" stroke-width="0.8" />
<line x1="635.7" y1="345.3" x2="633.4" y2="345.3" stroke="#222" stroke-width="0.8" />
<line x1="403.6" y1="343.11" x2="405.9" y2="343.11" stroke="#222" stroke-width="0.8" />
<line x1="635.7" y1="343.11" x2="633.4" y2="343.11" stroke="#222" stroke-width="0.8" />
<line x1="403.6" y1="341.41" x2="405.9" y2="341.41" stroke="#222" stroke-width="0.8" />
<line x1="635.7" y1="341.41" x2="633.4" y2="341.41" stroke="#222" stroke-width="0.8" />
<line x1="403.6" y1="340.02" x2="405.9" y2="340.02" stroke="#222" stroke-width="0.8" />
<line x1="635.7" y1="340.02" x2="633.4" y2="340.02" stroke="#222" stroke-width="0.8" />
<line x1="403.6" y1="338.85" x2="405.9" y2="338.85" stroke="#222" stroke-width="0.8" />
<line x1="635.7" y1="338.85" x2="633.4" y2="338.85" stroke="#222" stroke-width="0.8" />
<line x1="403.6" y1="337.83" x2="405.9" y2="337.83" stroke="#222" stroke-width="0.8" />
<line x1="635.7" y1="337.83" x2="633.4" y2="337.83" stroke="#222" stroke-width="0.8" />
<line x1="403.6" y1="336.93" x2="405.9" y2="336.93" stroke="#222" stroke-width="0.8" />
<line x1="635.7" y1="336.93" x2="633.4" y2="336.93" stroke="#222" stroke-width="0.8" />
<line x1="403.6" y1="336.13" x2="407.9" y2="336.13" stroke="#222" stroke-width="1.1" />
<line x1="635.7" y1="336.13" x2="631.4" y2="336.13" stroke="#222" stroke-width="1.1" />
<line x1="403.6" y1="330.85" x2="405.9" y2="330.85" stroke="#222" stroke-width="0.8" />
<line x1="635.7" y1="330.85" x2="633.4" y2="330.85" stroke="#222" stroke-width="0.8" />
<line x1="403.6" y1="327.77" x2="405.9" y2="327.77" stroke="#222" stroke-width="0.8" />
<line x1="635.7" y1="327.77" x2="633.4" y2="327.77" stroke="#222" stroke-width="0.8" />
<line x1="403.6" y1="325.58" x2="405.9" y2="325.58" stroke="#222" stroke-width="0.8" />
<line x1="635.7" y1="325.58" x2="633.4" y2="325.58" stroke="#222" stroke-width="0.8" />
<line x1="403.6" y1="323.88" x2="405.9" y2="323.88" stroke="#222" stroke-width="0.8" />
<line x1="635.7" y1="323.88" x2="633.4" y2="323.88" stroke="#222" stroke-width="0.8" />
<line x1="403.6" y1="322.49" x2="405.9" y2="322.49" stroke="#222" stroke-width="0.8" />
<line x1="635.7" y1="322.49" x2="633.4" y2="322.49" stroke="#222" stroke-width="0.8" />
<line x1="403.6" y1="321.32" x2="405.9" y2="321.32" stroke="#222" stroke-width="0.8" />
<line x1="635.7" y1="321.32" x2="633.4" y2="321.32" stroke="#222" stroke-width="0.8" />
<line x1="403.6" y1="320.3" x2="405.9" y2="320.3" stroke="#222" stroke-width="0.8" />
<line x1="635.7" y1="320.3" x2="633.4" y2="320.3" stroke="#222" stroke-width="0.8" />
<line x1="403.6" y1="319.4" x2="405.9" y2="319.4" stroke="#222" stroke-width="0.8" />
<line x1="635.7" y1="319.4" x2="633.4" y2="319.4" stroke="#222" stroke-width="0.8" />
<line x1="403.6" y1="318.6" x2="407.9" y2="318.6" stroke="#222" stroke-width="1.1" />
<line x1="635.7" y1="318.6" x2="631.4" y2="318.6" stroke="#222" stroke-width="1.1" />
<line x1="403.6" y1="313.32" x2="405.9" y2="313.32" stroke="#222" stroke-width="0.8" />
<line x1="635.7" y1="313.32" x2="633.4" y2="313.32" stroke="#222" stroke-width="0.8" />
<line x1="403.6" y1="310.24" x2="405.9" y2="310.24" stroke="#222" stroke-width="0.8" />
<line x1="635.7" y1="310.24" x2="633.4" y2="310.24" stroke="#222" stroke-width="0.8" />
<line x1="403.6" y1="308.05" x2="405.9" y2="308.05" stroke="#222" stroke-width="0.8" />
<line x1="635.7" y1="308.05" x2="633.4" y2="308.05" stroke="#222" stroke-width="0.8" />
<line x1="403.6" y1="306.35" x2="405.9" y2="306.35" stroke="#222" stroke-width="0.8" />
<line x1="635.7" y1="306.35" x2="633.4" y2="306.35" stroke="#222" stroke-width="0.8" />
<line x1="403.6" y1="304.96" x2="405.9" y2="304.96" stroke="#222" stroke-width="0.8" />
<line x1="635.7" y1="304.96" x2="633.4" y2="304.96" stroke="#222" stroke-width="0.8" />
<line x1="403.6" y1="303.79" x2="405.9" y2="303.79" stroke="#222" stroke-width="0.8" />
<line x1="635.7" y1="303.79" x2="633.4" y2="303.79" stroke="#222" stroke-width="0.8" />
<line x1="403.6" y1="302.77" x2="405.9" y2="302.77" stroke="#222" stroke-width="0.8" />
<line x1="635.7" y1="302.77" x2="633.4" y2="302.77" stroke="#222" stroke-width="0.8" />
<line x1="403.6" y1="301.87" x2="405.9" y2="301.87" stroke="#222" stroke-width="0.8" />
<line x1="635.7" y1="301.87" x2="633.4" y2="301.87" stroke="#222" stroke-width="0.8" />
<line x1="403.6" y1="301.07" x2="407.9" y2="301.07" stroke="#222" stroke-width="1.1" />
<line x1="635.7" y1="301.07" x2="631.4" y2="301.07" stroke="#222" stroke-width="1.1" />
<text x="381.56" y="323.8" font-size="10" fill="#222">10<tspan dx="0.6" dy="-4.6" font-size="7.3" textLength="2.92" lengthAdjust="spacingAndGlyphs">1</tspan></text>
<text x="641.7" y="323.3" font-size="10" fill="#222">10<tspan dx="0.6" dy="-4.6" font-size="7.3" textLength="4.06" lengthAdjust="spacingAndGlyphs">0</tspan></text>
<text x="378.49" y="358.86" font-size="10" fill="#222">10<tspan dx="0.6" dy="-4.6" font-size="7.3" textLength="5.99" lengthAdjust="spacingAndGlyphs">&#8722;1</tspan></text>
<text x="641.7" y="358.36" font-size="10" fill="#222">10<tspan dx="0.6" dy="-4.6" font-size="7.3" textLength="7.12" lengthAdjust="spacingAndGlyphs">&#8722;2</tspan></text>
<text x="377.36" y="393.92" font-size="10" fill="#222">10<tspan dx="0.6" dy="-4.6" font-size="7.3" textLength="7.12" lengthAdjust="spacingAndGlyphs">&#8722;3</tspan></text>
<text x="641.7" y="393.42" font-size="10" fill="#222">10<tspan dx="0.6" dy="-4.6" font-size="7.3" textLength="7.12" lengthAdjust="spacingAndGlyphs">&#8722;4</tspan></text>
<text x="377.36" y="428.98" font-size="10" fill="#222">10<tspan dx="0.6" dy="-4.6" font-size="7.3" textLength="7.12" lengthAdjust="spacingAndGlyphs">&#8722;5</tspan></text>
<text x="641.7" y="428.48" font-size="10" fill="#222">10<tspan dx="0.6" dy="-4.6" font-size="7.3" textLength="7.12" lengthAdjust="spacingAndGlyphs">&#8722;6</tspan></text>
<text x="377.36" y="464.04" font-size="10" fill="#222">10<tspan dx="0.6" dy="-4.6" font-size="7.3" textLength="7.12" lengthAdjust="spacingAndGlyphs">&#8722;7</tspan></text>
<text x="641.7" y="463.54" font-size="10" fill="#222">10<tspan dx="0.6" dy="-4.6" font-size="7.3" textLength="7.12" lengthAdjust="spacingAndGlyphs">&#8722;8</tspan></text>
<text x="377.36" y="499.1" font-size="10" fill="#222">10<tspan dx="0.6" dy="-4.6" font-size="7.3" textLength="7.12" lengthAdjust="spacingAndGlyphs">&#8722;9</tspan></text>
<text x="641.7" y="498.6" font-size="10" fill="#222">10<tspan dx="0.6" dy="-4.6" font-size="7.3" textLength="10.04" lengthAdjust="spacingAndGlyphs">&#8722;10</tspan></text>
<line x1="428.1" y1="493.9" x2="428.1" y2="490.9" stroke="#3a3a3a" stroke-width="0.9" />
<text x="426.1" y="507.5" font-size="10" fill="#222" text-anchor="middle" >&#8722;10</text>
<line x1="526.75" y1="493.9" x2="526.75" y2="490.9" stroke="#3a3a3a" stroke-width="0.9" />
<text x="524.75" y="507.5" font-size="10" fill="#222" text-anchor="middle" >&#8722;9</text>
<line x1="625.4" y1="493.9" x2="625.4" y2="490.9" stroke="#3a3a3a" stroke-width="0.9" />
<text x="623.4" y="507.5" font-size="10" fill="#222" text-anchor="middle" >&#8722;8</text>
<text transform="translate(368.8,395.8) rotate(-90)" font-size="12.6" fill="#222" text-anchor="middle"><tspan font-style="italic">I</tspan><tspan font-size="8.5" dy="2.2" font-style="normal">D</tspan><tspan dy="-2.2" font-size="1">&#8203;</tspan> (mA mm<tspan font-size="8" dy="-4.5" font-style="normal">&#8722;1</tspan><tspan dy="4.5" font-size="1">&#8203;</tspan>)</text>
<text transform="translate(673.2,397.5) rotate(90)" font-size="12.6" fill="#8b1a1a" text-anchor="middle"><tspan font-style="italic">g</tspan><tspan font-size="8.5" dy="2.2" font-style="normal">m</tspan><tspan dy="-2.2" font-size="1">&#8203;</tspan> (mS mm<tspan font-size="8" dy="-4.5" font-style="normal">&#8722;1</tspan><tspan dy="4.5" font-size="1">&#8203;</tspan>)</text>
<text x="520" y="528.2" font-size="12.2" fill="#222" text-anchor="middle" textLength="37.4" lengthAdjust="spacingAndGlyphs"><tspan font-style="italic">V</tspan><tspan font-size="8.2" dy="2.2" font-style="normal">GS</tspan><tspan dy="-2.2" font-size="1">&#8203;</tspan> (V)</text>
<text x="416.4" y="333.3" font-size="10.5" fill="#222" text-anchor="start" textLength="49.4" lengthAdjust="spacingAndGlyphs"><tspan font-style="italic">V</tspan><tspan font-size="7.0" dy="3.0" font-style="normal">DS</tspan><tspan dy="-3.0" font-size="1">&#8203;</tspan> = 0.1 V</text>
<line x1="470.7" y1="352.4" x2="470.7" y2="427" stroke="#8b1a1a" stroke-width="0.9" />
<polygon points="470.7,430.6 469,426.2 472.4,426.2" fill="#8b1a1a" />
<line x1="504.5" y1="336.1" x2="504.5" y2="427" stroke="#8b1a1a" stroke-width="0.9" />
<polygon points="504.5,430.6 502.8,426.2 506.2,426.2" fill="#8b1a1a" />
<text x="458.2" y="445.6" font-size="12.2" fill="#8b1a1a" text-anchor="start" textLength="58" lengthAdjust="spacing">Shoulders</text>
</g>
</svg>
</body></html>
